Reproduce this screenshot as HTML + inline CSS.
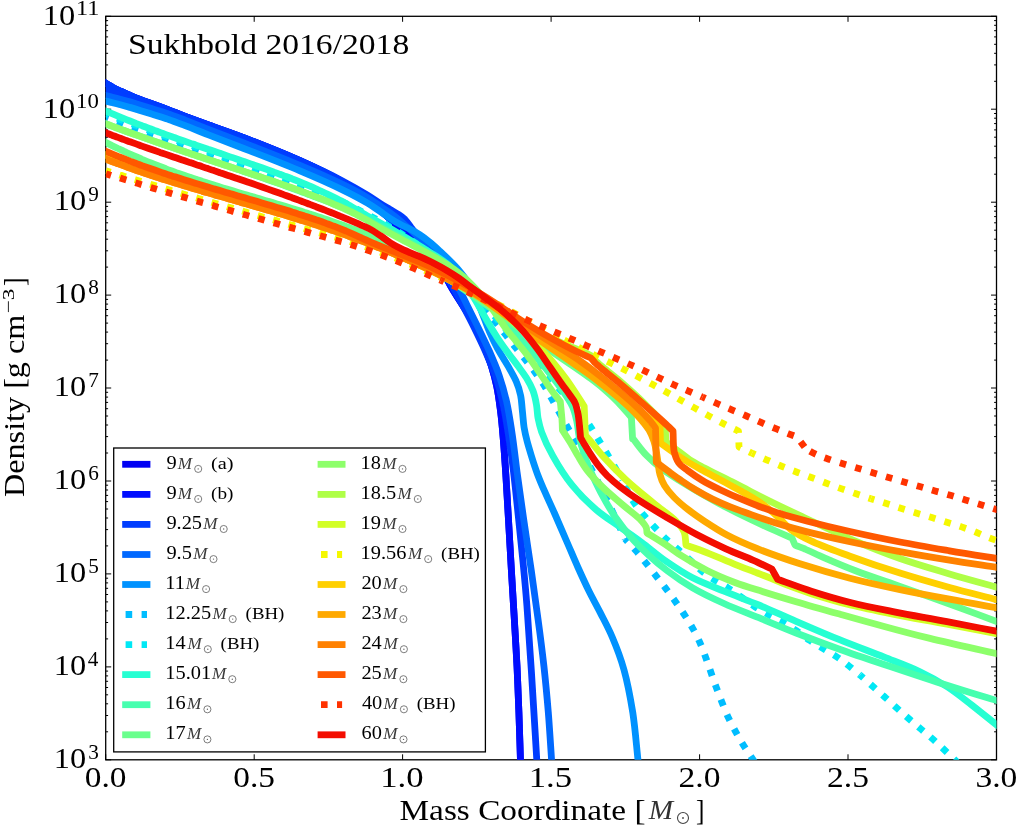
<!DOCTYPE html><html><head><meta charset="utf-8"><style>html,body{margin:0;padding:0;background:#fff;}svg{display:block;will-change:transform;}text{font-family:"Liberation Serif",serif;fill:#000;}</style></head><body>
<svg width="1016" height="826" viewBox="0 0 1016 826">
<rect width="1016" height="826" fill="#fff"/>
<defs><filter id="bl" x="0" y="0" width="1016" height="826" filterUnits="userSpaceOnUse"><feGaussianBlur stdDeviation="0.45"/></filter></defs>
<g filter="url(#bl)">
<rect width="1016" height="826" fill="#fff"/>
<defs><clipPath id="ax"><rect x="105.7" y="16.3" width="890.8" height="743.5"/></clipPath></defs>
<path d="M105.7,759.8 V754.3 M105.7,16.3 V21.8 M254.2,759.8 V754.3 M254.2,16.3 V21.8 M402.6,759.8 V754.3 M402.6,16.3 V21.8 M551.1,759.8 V754.3 M551.1,16.3 V21.8 M699.6,759.8 V754.3 M699.6,16.3 V21.8 M848.0,759.8 V754.3 M848.0,16.3 V21.8 M996.5,759.8 V754.3 M996.5,16.3 V21.8 M105.7,759.8 H111.2 M996.5,759.8 H991.0 M105.7,731.8 H108.1 M996.5,731.8 H994.1 M105.7,715.5 H108.1 M996.5,715.5 H994.1 M105.7,703.8 H108.1 M996.5,703.8 H994.1 M105.7,694.8 H108.1 M996.5,694.8 H994.1 M105.7,687.5 H108.1 M996.5,687.5 H994.1 M105.7,681.3 H108.1 M996.5,681.3 H994.1 M105.7,675.9 H108.1 M996.5,675.9 H994.1 M105.7,671.1 H108.1 M996.5,671.1 H994.1 M105.7,666.9 H111.2 M996.5,666.9 H991.0 M105.7,638.9 H108.1 M996.5,638.9 H994.1 M105.7,622.5 H108.1 M996.5,622.5 H994.1 M105.7,610.9 H108.1 M996.5,610.9 H994.1 M105.7,601.9 H108.1 M996.5,601.9 H994.1 M105.7,594.5 H108.1 M996.5,594.5 H994.1 M105.7,588.3 H108.1 M996.5,588.3 H994.1 M105.7,582.9 H108.1 M996.5,582.9 H994.1 M105.7,578.2 H108.1 M996.5,578.2 H994.1 M105.7,573.9 H111.2 M996.5,573.9 H991.0 M105.7,545.9 H108.1 M996.5,545.9 H994.1 M105.7,529.6 H108.1 M996.5,529.6 H994.1 M105.7,518.0 H108.1 M996.5,518.0 H994.1 M105.7,509.0 H108.1 M996.5,509.0 H994.1 M105.7,501.6 H108.1 M996.5,501.6 H994.1 M105.7,495.4 H108.1 M996.5,495.4 H994.1 M105.7,490.0 H108.1 M996.5,490.0 H994.1 M105.7,485.2 H108.1 M996.5,485.2 H994.1 M105.7,481.0 H111.2 M996.5,481.0 H991.0 M105.7,453.0 H108.1 M996.5,453.0 H994.1 M105.7,436.6 H108.1 M996.5,436.6 H994.1 M105.7,425.0 H108.1 M996.5,425.0 H994.1 M105.7,416.0 H108.1 M996.5,416.0 H994.1 M105.7,408.7 H108.1 M996.5,408.7 H994.1 M105.7,402.4 H108.1 M996.5,402.4 H994.1 M105.7,397.1 H108.1 M996.5,397.1 H994.1 M105.7,392.3 H108.1 M996.5,392.3 H994.1 M105.7,388.0 H111.2 M996.5,388.0 H991.0 M105.7,360.1 H108.1 M996.5,360.1 H994.1 M105.7,343.7 H108.1 M996.5,343.7 H994.1 M105.7,332.1 H108.1 M996.5,332.1 H994.1 M105.7,323.1 H108.1 M996.5,323.1 H994.1 M105.7,315.7 H108.1 M996.5,315.7 H994.1 M105.7,309.5 H108.1 M996.5,309.5 H994.1 M105.7,304.1 H108.1 M996.5,304.1 H994.1 M105.7,299.4 H108.1 M996.5,299.4 H994.1 M105.7,295.1 H111.2 M996.5,295.1 H991.0 M105.7,267.1 H108.1 M996.5,267.1 H994.1 M105.7,250.8 H108.1 M996.5,250.8 H994.1 M105.7,239.2 H108.1 M996.5,239.2 H994.1 M105.7,230.2 H108.1 M996.5,230.2 H994.1 M105.7,222.8 H108.1 M996.5,222.8 H994.1 M105.7,216.6 H108.1 M996.5,216.6 H994.1 M105.7,211.2 H108.1 M996.5,211.2 H994.1 M105.7,206.4 H108.1 M996.5,206.4 H994.1 M105.7,202.2 H111.2 M996.5,202.2 H991.0 M105.7,174.2 H108.1 M996.5,174.2 H994.1 M105.7,157.8 H108.1 M996.5,157.8 H994.1 M105.7,146.2 H108.1 M996.5,146.2 H994.1 M105.7,137.2 H108.1 M996.5,137.2 H994.1 M105.7,129.9 H108.1 M996.5,129.9 H994.1 M105.7,123.6 H108.1 M996.5,123.6 H994.1 M105.7,118.2 H108.1 M996.5,118.2 H994.1 M105.7,113.5 H108.1 M996.5,113.5 H994.1 M105.7,109.2 H111.2 M996.5,109.2 H991.0 M105.7,81.3 H108.1 M996.5,81.3 H994.1 M105.7,64.9 H108.1 M996.5,64.9 H994.1 M105.7,53.3 H108.1 M996.5,53.3 H994.1 M105.7,44.3 H108.1 M996.5,44.3 H994.1 M105.7,36.9 H108.1 M996.5,36.9 H994.1 M105.7,30.7 H108.1 M996.5,30.7 H994.1 M105.7,25.3 H108.1 M996.5,25.3 H994.1 M105.7,20.6 H108.1 M996.5,20.6 H994.1 M105.7,16.3 H111.2 M996.5,16.3 H991.0" stroke="#000" stroke-width="1" fill="none"/>
<rect x="105.7" y="16.3" width="890.8" height="743.5" fill="none" stroke="#000" stroke-width="1.3"/>
<g clip-path="url(#ax)" fill="none" stroke-width="6.8">
<path d="M106.0,83.4 C108.2,84.7 110.2,86.0 112.5,87.3 C115.0,88.6 117.7,89.8 120.5,91.2 C123.5,92.6 126.8,94.0 130.0,95.4 C133.3,96.8 136.5,98.2 140.0,99.5 C143.9,101.0 148.1,102.4 152.5,104.0 C157.5,105.8 163.2,107.9 168.5,109.9 C173.8,111.9 178.6,114.0 184.5,116.2 C191.7,118.9 199.4,121.6 208.5,125.0 C220.5,129.3 235.6,134.5 250.0,140.1 C265.9,146.3 284.1,153.4 300.0,160.7 C314.9,167.4 330.2,174.8 342.5,182.0 C352.5,188.0 361.4,194.4 368.8,200.2 C374.6,204.7 379.2,209.3 383.8,213.4 C387.5,216.8 390.9,219.8 394.1,222.9 C397.1,225.7 399.5,228.4 402.5,231.1 C405.7,234.1 409.1,236.9 412.6,239.9 C416.3,242.9 420.4,246.0 424.0,249.1 C427.4,252.1 430.8,254.9 433.8,258.4 C436.8,261.9 439.3,266.0 442.0,270.2 C444.9,275.0 447.5,280.6 450.5,285.8 C453.5,291.0 456.8,296.2 460.0,301.2 C463.1,306.2 466.5,311.0 469.5,316.0 C472.5,321.0 475.2,326.2 477.8,331.5 C480.4,336.9 482.7,342.5 485.0,348.2 C487.3,354.1 489.6,360.0 491.5,366.2 C493.5,372.8 495.3,379.4 496.8,386.5 C498.4,394.3 499.5,402.6 500.6,411.2 C501.8,420.6 502.6,430.3 503.4,440.4 C504.3,451.2 505.0,462.1 505.8,474.1 C506.7,487.7 507.6,502.7 508.4,518.0 C509.4,534.7 510.4,553.3 511.4,570.5 C512.4,587.4 513.4,604.1 514.4,620.4 C515.3,635.9 516.2,650.7 517.0,666.0 C517.7,681.4 518.3,696.6 518.9,712.2 C519.5,728.5 520.0,745.4 520.5,762.0" stroke="#0000f3" stroke-linecap="square" stroke-linejoin="round"/>
<path d="M106.0,83.4 C108.2,84.7 110.2,86.0 112.5,87.3 C115.0,88.6 117.7,89.8 120.5,91.2 C123.5,92.6 126.8,94.0 130.0,95.4 C133.3,96.8 136.5,98.2 140.0,99.5 C143.9,101.0 148.1,102.4 152.5,104.0 C157.5,105.8 163.2,107.9 168.5,109.9 C173.8,111.9 178.6,114.0 184.5,116.2 C191.7,118.9 199.4,121.6 208.5,125.0 C220.5,129.3 235.6,134.5 250.0,140.1 C265.9,146.3 284.1,153.4 300.0,160.7 C314.9,167.4 330.2,174.8 342.5,182.0 C352.5,188.0 361.4,194.4 368.8,200.2 C374.6,204.7 379.2,209.3 383.8,213.4 C387.5,216.8 390.9,219.8 394.1,222.9 C397.1,225.7 399.5,228.4 402.5,231.1 C405.7,234.1 409.1,236.9 412.6,239.9 C416.3,242.9 420.4,246.0 424.0,249.1 C427.4,252.1 430.8,254.9 433.8,258.4 C436.8,261.9 439.3,266.0 442.0,270.2 C444.9,275.0 447.5,280.6 450.5,285.8 C453.5,291.0 456.8,296.2 460.0,301.2 C463.1,306.2 466.5,311.0 469.5,316.0 C472.5,321.0 475.2,326.2 477.8,331.5 C480.4,336.9 482.7,342.5 485.0,348.2 C487.3,354.1 489.6,360.0 491.5,366.2 C493.5,372.8 495.3,379.4 496.8,386.5 C498.4,394.3 499.5,402.6 500.6,411.2 C501.8,420.6 502.6,430.3 503.4,440.4 C504.3,451.2 505.0,462.1 505.8,474.1 C506.7,487.7 507.6,502.7 508.4,518.0 C509.4,534.7 510.4,553.3 511.4,570.5 C512.4,587.4 513.4,604.1 514.4,620.4 C515.3,635.9 516.2,650.7 517.0,666.0 C517.7,681.4 518.3,696.6 518.9,712.2 C519.5,728.5 520.0,745.4 520.5,762.0" stroke="#0011ff" stroke-linecap="square" stroke-linejoin="round"/>
<path d="M106.0,83.4 C108.2,84.7 110.2,86.0 112.5,87.3 C115.0,88.6 117.7,89.8 120.5,91.2 C123.5,92.6 126.8,94.0 130.0,95.4 C133.3,96.8 136.5,98.2 140.0,99.5 C143.9,101.0 148.1,102.4 152.5,104.0 C157.5,105.8 163.2,107.9 168.5,109.9 C173.8,111.9 178.6,114.0 184.5,116.2 C191.7,118.9 199.4,121.6 208.5,125.0 C220.5,129.3 235.6,134.5 250.0,140.1 C265.9,146.3 284.1,153.6 300.0,160.7 C314.8,167.2 330.3,174.5 342.5,180.9 C352.0,185.9 360.7,191.0 367.5,195.2 C372.4,198.2 376.0,200.9 380.0,203.4 C383.5,205.6 386.8,207.5 390.0,209.4 C393.0,211.2 396.1,212.8 398.8,214.6 C401.1,216.1 403.0,217.5 405.0,219.5 C407.2,221.8 408.9,224.5 411.2,227.6 C414.5,231.8 418.5,236.9 422.5,242.2 C427.3,248.6 433.1,256.1 438.0,263.2 C442.8,270.3 447.3,277.8 451.5,285.0 C455.4,291.8 458.8,298.1 462.5,305.0 C466.3,312.2 470.2,319.6 474.0,327.2 C477.9,335.1 481.9,343.4 485.5,351.5 C489.0,359.5 492.4,367.3 495.2,375.5 C498.1,383.9 500.4,392.2 502.5,401.2 C504.8,411.2 506.5,421.8 508.2,432.9 C510.2,445.1 511.9,458.1 513.5,471.6 C515.3,486.3 516.9,502.7 518.5,518.0 C520.1,533.1 521.7,548.2 523.1,563.0 C524.5,577.4 525.7,589.7 526.9,605.4 C528.4,625.0 529.9,647.7 531.4,671.5 C533.2,699.3 535.1,731.8 536.9,762.0" stroke="#003cff" stroke-linecap="square" stroke-linejoin="round"/>
<path d="M106.0,89.5 C108.2,90.4 110.2,91.3 112.5,92.2 C115.0,93.2 117.7,94.2 120.5,95.2 C123.5,96.3 126.8,97.5 130.0,98.6 C133.3,99.8 136.5,101.0 140.0,102.2 C143.9,103.6 148.1,104.9 152.5,106.4 C157.5,108.1 163.2,110.0 168.5,111.9 C173.9,113.8 178.6,115.8 184.5,118.0 C191.7,120.8 199.4,123.7 208.5,127.2 C220.4,131.7 235.6,137.1 250.0,142.7 C265.9,149.0 284.1,156.1 300.0,163.0 C314.8,169.4 330.3,176.5 342.5,182.6 C352.0,187.5 360.7,192.3 367.5,196.4 C372.5,199.4 376.1,202.1 380.0,204.7 C383.5,207.0 386.7,209.0 390.0,211.1 C393.3,213.2 396.7,215.3 400.0,217.4" stroke="#003cff" stroke-linecap="square" stroke-linejoin="round"/>
<path d="M106.0,95.6 C108.2,96.1 110.2,96.7 112.5,97.2 C115.0,97.9 117.7,98.5 120.5,99.2 C123.5,100.0 126.8,100.9 130.0,101.8 C133.3,102.8 136.5,103.8 140.0,104.9 C143.9,106.1 148.1,107.4 152.5,108.8 C157.5,110.3 163.2,112.0 168.5,113.9 C173.9,115.7 178.6,117.6 184.5,119.8 C191.7,122.6 199.4,125.8 208.5,129.4 C220.4,134.0 235.5,139.7 250.0,145.4 C265.9,151.6 284.1,158.6 300.0,165.4 C314.8,171.6 330.3,178.4 342.5,184.4 C352.0,189.0 360.7,193.6 367.5,197.7 C372.5,200.6 376.1,203.3 380.0,205.9 C383.5,208.3 386.7,210.4 390.0,212.8 C393.4,215.3 396.5,217.6 400.0,220.5 C404.0,223.8 408.1,227.8 412.5,231.7 C417.3,236.0 422.8,240.7 427.5,245.2 C431.9,249.3 436.3,253.0 440.0,257.3 C443.6,261.5 446.6,266.0 449.5,270.8 C452.6,275.8 455.2,281.2 458.0,286.8 C461.0,292.6 463.8,298.6 467.0,305.0 C470.5,312.1 474.3,319.7 478.0,327.2 C481.8,335.1 485.9,343.4 489.5,351.5 C493.0,359.5 496.4,367.3 499.2,375.5 C502.1,383.9 504.4,392.2 506.5,401.2 C508.8,411.2 510.3,421.8 512.0,432.9 C513.9,445.1 515.2,458.1 517.0,471.6 C519.0,486.4 521.2,502.1 523.5,518.0 C525.9,535.0 528.8,553.2 531.3,570.5 C533.7,587.4 536.1,604.1 538.2,620.4 C540.3,635.9 542.2,650.7 543.9,666.0 C545.6,681.4 547.0,696.5 548.3,712.2 C549.6,728.5 550.6,745.4 551.7,762.0" stroke="#0067ff" stroke-linecap="square" stroke-linejoin="round"/>
<path d="M106.0,101.1 C108.2,101.6 110.2,102.2 112.5,102.7 C115.0,103.4 117.7,104.0 120.5,104.7 C123.5,105.5 126.8,106.4 130.0,107.4 C133.3,108.3 136.5,109.3 140.0,110.4 C143.9,111.6 148.1,112.9 152.5,114.3 C157.5,115.8 163.2,117.5 168.5,119.4 C173.9,121.2 178.6,123.1 184.5,125.4 C191.7,128.1 199.4,131.3 208.5,134.9 C220.4,139.5 235.5,145.2 250.0,150.9 C265.9,157.1 284.1,164.1 300.0,170.9 C314.8,177.1 330.3,183.9 342.5,189.9 C352.0,194.5 360.7,199.1 367.5,203.2 C372.5,206.1 376.1,208.8 380.0,211.4 C383.5,213.8 386.6,216.2 390.0,218.3 C393.3,220.4 396.6,222.4 400.0,224.2 C403.3,226.0 406.7,227.4 410.0,229.1 C413.4,230.9 416.7,232.7 420.0,234.9 C423.4,237.1 426.7,239.7 430.0,242.4 C433.4,245.1 436.7,248.2 440.0,251.2 C443.4,254.4 446.8,257.6 450.0,260.9 C453.2,264.1 456.4,267.3 459.2,270.6 C462.0,273.9 464.5,277.2 466.8,280.6 C469.0,284.0 470.9,287.5 472.8,291.1 C474.7,295.0 476.4,299.0 478.2,303.2 C480.2,307.8 482.1,312.9 484.0,317.8 C486.0,322.8 487.8,327.9 490.1,333.0 C492.4,338.2 494.8,343.4 497.6,348.6 C500.6,354.2 504.4,359.8 507.6,365.4 C510.6,370.8 514.0,376.1 516.2,381.4 C518.3,386.1 519.6,390.6 520.6,395.4 C521.7,400.5 521.8,405.8 522.4,411.1 C523.0,416.5 523.3,422.3 524.1,427.5 C524.9,432.3 525.9,436.6 527.1,441.2 C528.4,446.2 529.9,451.0 531.5,456.2 C533.3,462.0 535.3,468.3 537.5,474.2 C539.8,480.3 542.3,486.1 545.0,492.2 C547.9,498.9 551.1,505.6 554.4,513.0 C558.1,521.4 562.2,531.0 566.1,540.0 C570.1,549.1 574.1,558.8 578.0,567.5 C581.6,575.5 585.0,583.0 588.7,590.5 C592.3,597.9 596.2,604.6 600.0,612.1 C604.0,620.1 608.4,628.0 612.2,637.0 C616.5,647.1 620.7,658.0 624.0,669.8 C627.7,683.0 630.4,697.8 632.8,712.6 C635.2,728.5 636.4,745.5 638.2,762.0" stroke="#0092ff" stroke-linecap="square" stroke-linejoin="round"/>
<path id="d_12p25_0" d="M106.0,118.0 C108.0,118.8 110.0,119.5 112.0,120.3 C114.0,121.0 116.0,121.7 118.0,122.5 C120.0,123.2 122.0,123.9 124.0,124.7 C126.0,125.4 128.0,126.1 130.0,126.8 C132.0,127.6 134.0,128.3 136.0,129.0 C138.0,129.7 140.0,130.5 142.0,131.2 C144.0,131.9 146.0,132.6 148.0,133.3 C150.0,134.1 152.0,134.8 154.0,135.5 C156.0,136.2 158.0,136.9 160.0,137.6 C162.0,138.3 164.0,139.1 166.0,139.8 C168.0,140.5 170.0,141.2 172.0,141.9 C174.0,142.6 176.0,143.3 178.0,144.0 C180.0,144.7 182.0,145.5 184.0,146.2 C186.0,146.9 188.0,147.6 190.0,148.3 C192.0,149.0 194.0,149.7 196.0,150.4 C198.0,151.1 200.0,151.8 202.0,152.5 C204.0,153.2 206.0,154.0 208.0,154.7 C210.0,155.4 212.0,156.1 214.0,156.8 C216.0,157.5 218.0,158.2 220.0,158.9 C222.0,159.6 224.0,160.4 226.0,161.1 C228.0,161.8 230.0,162.5 232.0,163.2 C234.0,163.9 236.0,164.7 238.0,165.4 C240.0,166.1 242.0,166.8 244.0,167.5 C246.0,168.3 248.0,169.0 250.0,169.7 C252.0,170.4 254.0,171.2 256.0,171.9 C258.0,172.6 260.0,173.3 262.0,174.1 C264.0,174.8 266.0,175.5 268.0,176.3 C270.0,177.0 272.0,177.8 274.0,178.5 C276.0,179.2 278.0,180.0 280.0,180.7 C282.0,181.5 284.0,182.2 286.0,183.0 C288.0,183.7 290.0,184.5 292.0,185.2 C294.0,186.0 296.0,186.8 298.0,187.5 C300.0,188.3 302.0,189.1 304.0,189.8 C306.0,190.6 308.0,191.4 310.0,192.1 C312.0,192.9 314.0,193.7 316.0,194.5 C318.0,195.3 320.0,196.1 322.0,196.8 C324.0,197.6 326.0,198.4 328.0,199.2 C330.0,200.0 332.0,200.8 334.0,201.6 C336.0,202.5 338.0,203.3 340.0,204.1 C341.9,204.8 343.4,205.4 345.5,206.3 C348.6,207.7 352.3,209.6 356.5,211.7 C362.4,214.7 370.1,218.5 377.5,222.5 C386.1,227.2 395.6,232.0 405.0,238.0 C415.6,244.8 427.1,252.9 437.5,261.5 C448.0,270.2 458.6,280.5 467.5,289.8 C475.3,297.9 482.2,306.2 488.5,313.6 C493.8,319.9 498.4,325.7 502.8,331.2 C506.7,336.0 510.1,340.4 513.6,345.0 C517.1,349.3 520.5,353.6 524.0,357.9 C527.4,362.3 531.0,366.8 534.3,371.2 C537.5,375.6 540.5,379.9 543.3,384.2 C546.0,388.5 548.4,392.6 550.8,397.0 C553.3,401.3 555.6,405.9 558.1,410.4 C560.7,415.1 563.3,419.9 566.0,424.6 C568.6,429.3 571.5,434.0 574.2,438.6 C576.9,443.1 579.5,447.3 582.1,451.9 C584.8,456.7 587.2,461.4 590.0,466.6 C593.2,472.7 596.7,479.3 600.2,486.2 C604.1,493.9 608.2,502.4 612.2,510.9 C616.5,519.9 620.8,529.5 625.0,538.8" stroke="#00bdff" stroke-dasharray="6.6 9.4" stroke-dashoffset="4.30" stroke-linecap="butt" stroke-linejoin="round"/>
<path id="d_12p25_1" d="M625.0,538.8 C628.6,542.7 632.3,546.6 635.8,550.6 C639.3,554.6 642.6,558.9 646.0,563.1 C649.3,567.2 652.5,571.4 655.8,575.6 C659.0,579.8 662.3,583.9 665.5,588.1 C668.8,592.4 671.9,596.7 675.0,601.0 C678.0,605.3 681.0,609.6 683.9,614.0 C686.8,618.4 689.7,622.9 692.2,627.5 C694.9,632.1 697.2,636.5 699.5,641.7 C702.1,647.5 704.3,653.6 706.8,660.5 C709.9,668.9 713.0,678.9 716.6,688.2 C720.3,698.0 724.2,708.6 728.5,717.9 C732.6,726.5 737.0,734.4 741.6,742.2 C746.2,749.8 751.2,756.7 756.0,764.0" stroke="#00bdff" stroke-dasharray="6.6 9.4" stroke-dashoffset="2.80" stroke-linecap="butt" stroke-linejoin="round"/>
<path id="d_14_0" d="M106.0,113.9 C108.0,114.7 110.0,115.4 112.0,116.2 C114.0,117.0 116.0,117.8 118.0,118.5 C120.0,119.3 122.0,120.1 124.0,120.8 C126.0,121.6 128.0,122.4 130.0,123.1 C132.0,123.9 134.0,124.6 136.0,125.4 C138.0,126.1 140.0,126.9 142.0,127.6 C144.0,128.4 146.0,129.1 148.0,129.8 C150.0,130.6 152.0,131.3 154.0,132.1 C156.0,132.8 158.0,133.5 160.0,134.3 C162.0,135.0 164.0,135.7 166.0,136.4 C168.0,137.2 170.0,137.9 172.0,138.6 C174.0,139.3 176.0,140.1 178.0,140.8 C180.0,141.5 182.0,142.2 184.0,142.9 C186.0,143.6 188.0,144.4 190.0,145.1 C192.0,145.8 194.0,146.5 196.0,147.2 C198.0,147.9 200.0,148.7 202.0,149.4 C204.0,150.1 206.0,150.8 208.0,151.5 C210.0,152.2 212.0,152.9 214.0,153.6 C216.0,154.4 218.0,155.1 220.0,155.8 C222.0,156.5 224.0,157.2 226.0,157.9 C228.0,158.6 230.0,159.4 232.0,160.1 C234.0,160.8 236.0,161.5 238.0,162.2 C240.0,162.9 242.0,163.7 244.0,164.4 C246.0,165.1 248.0,165.8 250.0,166.6 C252.0,167.3 254.0,168.0 256.0,168.7 C258.0,169.5 260.0,170.2 262.0,170.9 C264.0,171.6 266.0,172.4 268.0,173.1 C270.0,173.9 272.0,174.6 274.0,175.3 C276.0,176.1 278.0,176.8 280.0,177.6 C282.0,178.3 284.0,179.1 286.0,179.8 C288.0,180.6 290.0,181.3 292.0,182.1 C294.0,182.8 296.0,183.6 298.0,184.4 C300.0,185.1 302.0,185.9 304.0,186.7 C306.0,187.4 308.0,188.2 310.0,189.0 C312.0,189.8 314.0,190.6 316.0,191.3 C318.0,192.1 320.0,192.9 322.0,193.7 C324.0,194.5 326.0,195.3 328.0,196.1 C330.0,196.9 332.0,197.7 334.0,198.6 C336.0,199.4 338.0,200.2 340.0,201.0 C341.9,201.8 343.2,202.3 345.5,203.3 C349.5,205.1 355.1,208.1 361.5,211.5 C371.1,216.6 385.2,223.7 397.5,231.3 C411.3,239.9 426.5,249.8 440.0,261.0 C454.0,272.7 467.1,286.7 480.0,300.2 C492.9,313.9 505.6,329.1 517.5,342.5 C528.4,354.7 539.1,366.7 548.8,377.5 C557.1,386.8 565.4,395.4 572.2,403.3 C577.8,409.8 582.8,415.7 586.9,421.3 C590.2,425.9 592.6,430.0 595.3,434.4 C598.0,438.7 600.4,442.7 603.0,447.1 C605.9,451.9 609.0,456.9 612.0,462.1 C615.3,467.8 618.7,474.0 622.0,480.0" stroke="#02e8f5" stroke-dasharray="6.6 9.4" stroke-dashoffset="4.05" stroke-linecap="butt" stroke-linejoin="round"/>
<path id="d_14_1" d="M622.0,480.0 C625.7,487.0 629.1,494.7 633.0,500.9 C636.5,506.3 640.2,511.0 644.0,515.5 C647.5,519.8 651.1,523.5 654.8,527.4 C658.5,531.3 662.2,535.2 666.0,538.9 C669.9,542.6 674.0,545.9 678.0,549.4 C682.0,552.9 686.1,556.4 690.0,560.0 C694.0,563.7 697.7,567.7 701.9,571.1 C705.9,574.4 710.1,577.2 714.4,580.0 C718.7,582.7 723.2,584.9 727.5,587.6 C731.9,590.4 736.2,593.5 740.5,596.5 C745.0,599.6 749.4,603.1 754.0,606.1 C758.6,609.1 763.4,611.9 768.2,614.6 C772.9,617.2 777.8,619.4 782.5,622.0 C787.2,624.7 791.8,627.5 796.3,630.6 C800.8,633.6 805.0,637.2 809.5,640.2 C813.9,643.2 818.3,645.5 822.9,648.4 C828.1,651.6 833.6,654.6 839.2,658.5 C845.8,663.2 853.1,669.5 860.0,675.0" stroke="#02e8f5" stroke-dasharray="6.6 9.4" stroke-dashoffset="9.30" stroke-linecap="butt" stroke-linejoin="round"/>
<path id="d_14_2" d="M860.0,675.0 C868.2,682.3 876.7,689.9 884.6,696.9 C892.0,703.5 899.3,710.3 905.8,716.0 C911.2,720.8 915.9,724.7 920.9,729.0 C925.9,733.3 930.5,737.0 935.9,741.9 C942.4,747.8 950.0,755.3 957.0,762.0" stroke="#02e8f5" stroke-dasharray="6.6 9.4" stroke-dashoffset="2.05" stroke-linecap="butt" stroke-linejoin="round"/>
<path d="M106.0,111.2 C108.0,112.0 110.0,112.9 112.0,113.7 C114.0,114.5 116.0,115.4 118.0,116.2 C120.0,117.0 122.0,117.8 124.0,118.6 C126.0,119.4 128.0,120.2 130.0,121.0 C132.0,121.8 134.0,122.6 136.0,123.4 C138.0,124.1 140.0,124.9 142.0,125.7 C144.0,126.4 146.0,127.2 148.0,127.9 C150.0,128.7 152.0,129.4 154.0,130.2 C156.0,130.9 158.0,131.7 160.0,132.4 C162.0,133.1 164.0,133.9 166.0,134.6 C168.0,135.3 170.0,136.0 172.0,136.7 C174.0,137.4 176.0,138.2 178.0,138.9 C180.0,139.6 182.0,140.3 184.0,141.0 C186.0,141.7 188.0,142.4 190.0,143.1 C192.0,143.8 194.0,144.4 196.0,145.1 C198.0,145.8 200.0,146.5 202.0,147.2 C204.0,147.9 206.0,148.6 208.0,149.3 C210.0,149.9 212.0,150.6 214.0,151.3 C216.0,152.0 218.0,152.7 220.0,153.3 C222.0,154.0 224.0,154.7 226.0,155.4 C228.0,156.1 230.0,156.8 232.0,157.4 C234.0,158.1 236.0,158.8 238.0,159.5 C240.0,160.2 242.0,160.9 244.0,161.5 C246.0,162.2 248.0,162.9 250.0,163.6 C252.0,164.3 254.0,165.0 256.0,165.7 C258.0,166.4 260.0,167.1 262.0,167.8 C264.0,168.5 266.0,169.2 268.0,169.9 C270.0,170.6 272.0,171.3 274.0,172.1 C276.0,172.8 278.0,173.5 280.0,174.3 C282.0,175.0 284.0,175.8 286.0,176.5 C288.0,177.3 290.0,178.1 292.0,178.8 C294.0,179.6 296.0,180.4 298.0,181.2 C300.0,182.0 302.0,182.9 304.0,183.7 C306.0,184.5 308.0,185.4 310.0,186.2 C312.0,187.1 314.0,188.0 316.0,188.8 C318.0,189.7 320.0,190.6 322.0,191.6 C324.0,192.5 326.0,193.4 328.0,194.4 C330.0,195.3 332.0,196.3 334.0,197.3 C336.0,198.3 338.0,199.3 340.0,200.4 C342.0,201.4 344.0,202.5 346.0,203.6 C348.0,204.6 350.0,205.8 352.0,206.9 C354.0,208.0 356.0,209.2 358.0,210.3 C360.0,211.5 361.9,212.7 364.0,213.9 C366.2,215.3 368.4,216.5 371.0,217.9 C374.4,219.8 378.2,221.7 382.5,224.2 C388.3,227.4 395.5,231.5 402.5,235.6 C410.4,240.3 419.7,245.8 427.5,250.8 C434.6,255.3 441.6,259.3 447.5,264.2 C452.8,268.7 457.2,273.3 461.5,278.8 C466.1,284.6 470.2,291.6 474.2,298.2 C478.3,304.9 481.9,311.9 485.8,318.5 C489.4,324.8 493.0,331.0 496.8,336.8 C500.3,342.3 504.1,347.5 507.8,352.5 C511.1,357.1 514.6,361.4 517.8,365.8 C520.8,369.9 523.9,373.8 526.5,378.0 C529.0,382.1 531.3,386.3 533.0,390.8 C534.7,395.3 535.7,400.3 536.5,405.0 C537.3,409.4 537.2,413.6 538.0,418.0 C538.9,422.6 539.8,426.8 541.6,432.0 C544.1,438.9 548.1,447.5 552.7,455.6 C558.0,465.1 564.8,476.2 572.1,485.2 C579.3,494.2 587.9,502.7 596.3,509.8 C603.9,516.4 612.2,521.4 619.9,526.9 C627.2,532.1 634.1,536.7 641.3,542.1 C649.1,547.8 656.6,554.6 665.0,560.5 C673.7,566.5 682.9,572.7 692.6,577.8 C702.6,582.9 713.2,586.8 724.0,591.2 C735.3,595.9 747.1,600.1 758.8,605.0 C771.1,610.1 783.2,615.8 796.1,621.3 C810.0,627.3 824.8,633.8 839.5,639.7 C854.2,645.7 870.2,651.6 884.3,657.2 C896.9,662.2 909.0,666.5 920.0,671.8 C929.9,676.5 938.8,681.4 947.5,687.0 C956.1,692.6 963.8,698.9 972.0,705.2 C980.6,711.9 989.3,719.1 998.0,726.0" stroke="#25ffd2" stroke-linecap="square" stroke-linejoin="round"/>
<path d="M106.0,123.9 C108.0,124.6 110.0,125.4 112.0,126.1 C114.0,126.9 116.0,127.6 118.0,128.3 C120.0,129.1 122.0,129.8 124.0,130.5 C126.0,131.3 128.0,132.0 130.0,132.7 C132.0,133.4 134.0,134.1 136.0,134.8 C138.0,135.5 140.0,136.2 142.0,136.9 C144.0,137.6 146.0,138.3 148.0,139.0 C150.0,139.7 152.0,140.4 154.0,141.1 C156.0,141.8 158.0,142.5 160.0,143.2 C162.0,143.9 164.0,144.6 166.0,145.3 C168.0,145.9 170.0,146.6 172.0,147.3 C174.0,148.0 176.0,148.6 178.0,149.3 C180.0,150.0 182.0,150.7 184.0,151.3 C186.0,152.0 188.0,152.7 190.0,153.4 C192.0,154.0 194.0,154.7 196.0,155.4 C198.0,156.0 200.0,156.7 202.0,157.4 C204.0,158.1 206.0,158.7 208.0,159.4 C210.0,160.1 212.0,160.7 214.0,161.4 C216.0,162.1 218.0,162.7 220.0,163.4 C222.0,164.1 224.0,164.7 226.0,165.4 C228.0,166.1 230.0,166.8 232.0,167.4 C234.0,168.1 236.0,168.8 238.0,169.4 C240.0,170.1 242.0,170.8 244.0,171.5 C246.0,172.2 248.0,172.8 250.0,173.5 C252.0,174.2 254.0,174.9 256.0,175.6 C258.0,176.3 260.0,176.9 262.0,177.6 C264.0,178.3 266.0,179.0 268.0,179.7 C270.0,180.4 272.0,181.1 274.0,181.8 C276.0,182.5 278.0,183.2 280.0,183.9 C282.0,184.6 284.0,185.3 286.0,186.1 C288.0,186.8 290.0,187.5 292.0,188.2 C294.0,188.9 296.0,189.7 298.0,190.4 C300.0,191.1 302.0,191.9 304.0,192.6 C306.0,193.3 308.0,194.1 310.0,194.8 C312.0,195.6 314.0,196.3 316.0,197.1 C318.0,197.8 320.0,198.6 322.0,199.4 C324.0,200.1 326.0,200.9 328.0,201.7 C330.0,202.5 332.0,203.3 334.0,204.1 C336.0,204.8 338.0,205.7 340.0,206.4 C341.9,207.2 343.2,207.6 345.5,208.7 C349.5,210.5 355.1,213.4 361.5,216.7 C371.1,221.7 385.2,228.8 397.5,235.6 C410.9,243.0 426.0,250.8 438.8,259.5 C450.9,267.8 462.1,276.9 472.5,286.5 C482.6,295.8 491.4,306.3 500.2,316.0 C508.6,325.1 516.6,334.2 524.2,343.0 C531.5,351.3 538.5,359.5 545.0,367.5 C551.0,375.0 557.0,382.7 561.9,389.7 C566.0,395.6 570.0,401.0 572.5,406.6 C574.7,411.5 575.6,416.2 576.8,421.2 C577.9,426.3 578.1,431.6 579.2,437.0 C580.5,442.8 582.3,448.7 584.4,454.8 C586.6,461.6 589.6,468.8 592.6,475.6 C595.8,482.6 599.1,489.6 602.9,496.4 C606.7,503.5 610.9,510.6 615.6,517.5 C620.5,524.5 626.0,531.7 631.6,538.1 C637.0,544.2 642.6,549.6 648.5,555.0 C654.5,560.6 660.5,565.7 667.4,570.9 C675.0,576.7 683.6,582.6 692.6,587.9 C702.3,593.6 713.2,598.7 724.0,603.5 C735.2,608.6 747.0,612.9 758.8,617.7 C771.0,622.7 783.1,627.9 796.1,633.0 C809.9,638.4 824.3,643.8 839.5,649.2 C856.0,655.2 874.1,661.1 891.8,667.0 C909.9,673.1 928.9,679.5 947.0,685.2 C964.3,690.8 981.0,695.8 998.0,701.0" stroke="#47ffaf" stroke-linecap="square" stroke-linejoin="round"/>
<path d="M106.0,142.6 C108.0,143.6 110.0,144.6 112.0,145.6 C114.0,146.5 116.0,147.5 118.0,148.5 C120.0,149.4 122.0,150.4 124.0,151.3 C126.0,152.2 128.0,153.2 130.0,154.1 C132.0,155.0 134.0,155.8 136.0,156.7 C138.0,157.6 140.0,158.4 142.0,159.3 C144.0,160.1 146.0,161.0 148.0,161.8 C150.0,162.6 152.0,163.4 154.0,164.2 C156.0,165.0 158.0,165.8 160.0,166.5 C162.0,167.3 164.0,168.1 166.0,168.8 C168.0,169.6 170.0,170.3 172.0,171.0 C174.0,171.7 176.0,172.5 178.0,173.2 C180.0,173.9 182.0,174.6 184.0,175.3 C186.0,176.0 188.0,176.7 190.0,177.3 C192.0,178.0 194.0,178.7 196.0,179.3 C198.0,180.0 200.0,180.6 202.0,181.3 C204.0,181.9 206.0,182.6 208.0,183.2 C210.0,183.9 212.0,184.5 214.0,185.1 C216.0,185.7 218.0,186.4 220.0,187.0 C222.0,187.6 224.0,188.2 226.0,188.8 C228.0,189.4 230.0,190.0 232.0,190.6 C234.0,191.2 236.0,191.8 238.0,192.4 C240.0,193.0 242.0,193.6 244.0,194.2 C246.0,194.8 248.0,195.4 250.0,196.0 C252.0,196.6 254.0,197.1 256.0,197.7 C258.0,198.3 260.0,198.9 262.0,199.5 C264.0,200.1 266.0,200.7 268.0,201.3 C270.0,201.9 272.0,202.4 274.0,203.0 C276.0,203.6 278.0,204.2 280.0,204.8 C282.0,205.4 284.0,206.0 286.0,206.6 C288.0,207.2 290.0,207.8 292.0,208.4 C294.0,209.1 296.0,209.7 298.0,210.3 C300.0,210.9 302.0,211.5 304.0,212.2 C306.0,212.8 308.0,213.4 310.0,214.1 C312.0,214.7 314.0,215.4 316.0,216.0 C318.0,216.7 320.0,217.3 322.0,218.0 C324.0,218.7 326.0,219.3 328.0,220.0 C330.0,220.7 332.0,221.4 334.0,222.1 C336.0,222.8 338.0,223.5 340.0,224.2 C342.0,224.9 344.0,225.7 346.0,226.4 C348.0,227.1 350.0,227.9 352.0,228.6 C354.0,229.4 356.0,230.2 358.0,230.9 C360.0,231.7 361.9,232.5 364.0,233.3 C366.2,234.3 368.4,235.2 371.0,236.3 C374.4,237.8 378.1,239.6 382.5,241.7 C388.3,244.4 395.2,247.5 402.5,251.4 C411.6,256.1 422.2,262.2 432.5,268.5 C443.8,275.5 456.3,284.1 467.5,291.8 C477.9,298.9 488.2,306.2 497.5,312.8 C505.6,318.5 512.7,323.7 520.0,329.0 C526.9,334.0 533.3,338.8 540.0,343.5 C546.6,348.2 553.5,352.8 560.0,357.2 C566.1,361.5 572.4,365.7 577.9,369.5 C582.5,372.7 586.6,375.5 590.8,378.6 C594.9,381.7 598.7,384.6 602.9,388.1 C607.7,392.2 613.1,397.1 617.9,402.0 C622.6,406.9 626.9,412.3 631.4,417.5 L632.6,438.7 L633.0,438.7 C637.6,444.4 641.8,450.6 646.8,455.7 C651.4,460.5 656.4,464.7 661.8,468.8 C667.4,473.0 673.6,476.8 680.0,480.8 C686.8,485.0 693.9,489.3 701.2,493.5 C709.0,497.9 717.0,502.4 725.2,506.8 C733.8,511.3 743.1,515.9 751.8,520.0 C759.9,523.9 768.5,527.8 775.8,531.0 C781.7,533.6 786.6,535.7 792.0,538.0 L795.0,545.0 C798.3,546.4 801.1,547.4 805.0,549.0 C810.5,551.4 817.6,554.9 825.0,558.1 C834.2,562.1 844.9,566.7 856.2,571.0 C869.6,576.1 885.0,581.2 900.0,586.5 C916.0,592.2 933.1,598.1 949.5,604.0 C965.8,609.9 981.8,616.0 998.0,622.0" stroke="#6aff8d" stroke-linecap="square" stroke-linejoin="round"/>
<path d="M106.0,123.8 C108.0,124.6 110.0,125.3 112.0,126.1 C114.0,126.8 116.0,127.6 118.0,128.3 C120.0,129.1 122.0,129.8 124.0,130.5 C126.0,131.3 128.0,132.0 130.0,132.7 C132.0,133.4 134.0,134.1 136.0,134.9 C138.0,135.6 140.0,136.3 142.0,137.0 C144.0,137.7 146.0,138.4 148.0,139.1 C150.0,139.8 152.0,140.5 154.0,141.2 C156.0,141.9 158.0,142.6 160.0,143.3 C162.0,144.0 164.0,144.7 166.0,145.4 C168.0,146.0 170.0,146.7 172.0,147.4 C174.0,148.1 176.0,148.8 178.0,149.5 C180.0,150.1 182.0,150.8 184.0,151.5 C186.0,152.2 188.0,152.8 190.0,153.5 C192.0,154.2 194.0,154.8 196.0,155.5 C198.0,156.2 200.0,156.8 202.0,157.5 C204.0,158.2 206.0,158.8 208.0,159.5 C210.0,160.2 212.0,160.8 214.0,161.5 C216.0,162.2 218.0,162.8 220.0,163.5 C222.0,164.1 224.0,164.8 226.0,165.5 C228.0,166.1 230.0,166.8 232.0,167.5 C234.0,168.1 236.0,168.8 238.0,169.4 C240.0,170.1 242.0,170.8 244.0,171.4 C246.0,172.1 248.0,172.8 250.0,173.4 C252.0,174.1 254.0,174.7 256.0,175.4 C258.0,176.1 260.0,176.8 262.0,177.4 C264.0,178.1 266.0,178.8 268.0,179.4 C270.0,180.1 272.0,180.8 274.0,181.5 C276.0,182.2 278.0,182.9 280.0,183.6 C282.0,184.3 284.0,185.0 286.0,185.7 C288.0,186.4 290.0,187.1 292.0,187.8 C294.0,188.5 296.0,189.3 298.0,190.0 C300.0,190.7 302.0,191.5 304.0,192.2 C306.0,193.0 308.0,193.7 310.0,194.5 C312.0,195.3 314.0,196.0 316.0,196.8 C318.0,197.6 320.0,198.4 322.0,199.2 C324.0,200.1 326.0,200.9 328.0,201.7 C330.0,202.5 332.0,203.4 334.0,204.3 C336.0,205.1 338.0,206.0 340.0,206.9 C342.0,207.8 344.0,208.7 346.0,209.6 C348.0,210.5 350.0,211.4 352.0,212.4 C354.0,213.4 356.0,214.3 358.0,215.4 C360.0,216.4 361.9,217.4 364.0,218.6 C366.3,219.8 368.4,221.1 371.0,222.6 C374.4,224.6 378.1,226.8 382.5,229.3 C388.2,232.4 395.5,236.2 402.5,240.0 C410.4,244.2 419.7,248.9 427.5,253.2 C434.6,257.2 441.5,260.9 447.5,264.8 C452.6,268.1 456.8,271.0 461.2,274.8 C466.0,278.7 470.5,283.2 475.0,288.0 C479.7,293.0 484.6,298.9 488.8,304.2 C492.6,309.2 496.0,314.4 499.2,319.0 C502.2,323.1 504.7,327.0 507.5,330.8 C510.2,334.3 512.9,337.2 515.8,340.8 C519.0,344.7 522.4,348.7 526.0,353.4 C530.2,359.0 535.0,366.0 539.3,372.3 C543.6,378.4 547.9,385.2 551.7,390.5 C554.8,394.8 557.4,398.0 560.3,401.7 C560.9,407.8 561.7,414.8 562.0,420.0 C562.3,423.9 562.3,426.8 562.4,430.2 C565.4,434.9 568.7,439.8 571.4,444.4 C574.0,448.6 575.9,452.5 578.4,456.6 C581.0,461.0 583.3,465.3 586.8,469.8 C591.2,475.5 597.1,481.7 603.0,487.5 C609.4,493.7 617.5,500.2 624.0,505.9 C629.7,510.7 636.0,515.2 640.0,519.2 C642.7,522.1 645.0,524.6 646.1,527.2 C647.0,529.2 646.7,531.1 647.0,533.0 C653.0,536.7 659.0,540.3 664.9,544.2 C670.8,548.1 676.1,552.3 682.6,556.4 C690.0,561.1 698.6,566.2 707.1,570.5 C716.0,575.0 725.6,579.0 734.9,582.5 C744.0,586.0 752.8,588.5 762.4,591.5 C773.1,594.9 784.1,598.2 796.1,601.7 C809.6,605.7 824.9,610.0 839.5,614.1 C854.0,618.2 868.4,622.3 883.3,626.2 C898.6,630.4 912.9,634.2 930.0,638.4 C950.5,643.4 975.3,648.8 998.0,654.0" stroke="#8dff6a" stroke-linecap="square" stroke-linejoin="round"/>
<path d="M106.0,155.2 C108.0,156.1 110.0,156.9 112.0,157.7 C114.0,158.5 116.0,159.3 118.0,160.1 C120.0,160.8 122.0,161.6 124.0,162.4 C126.0,163.1 128.0,163.9 130.0,164.6 C132.0,165.4 134.0,166.1 136.0,166.8 C138.0,167.6 140.0,168.3 142.0,169.0 C144.0,169.7 146.0,170.4 148.0,171.1 C150.0,171.8 152.0,172.5 154.0,173.1 C156.0,173.8 158.0,174.5 160.0,175.1 C162.0,175.8 164.0,176.4 166.0,177.1 C168.0,177.7 170.0,178.4 172.0,179.0 C174.0,179.7 176.0,180.3 178.0,180.9 C180.0,181.5 182.0,182.1 184.0,182.8 C186.0,183.4 188.0,184.0 190.0,184.6 C192.0,185.2 194.0,185.8 196.0,186.4 C198.0,187.0 200.0,187.6 202.0,188.2 C204.0,188.8 206.0,189.3 208.0,189.9 C210.0,190.5 212.0,191.1 214.0,191.7 C216.0,192.3 218.0,192.8 220.0,193.4 C222.0,194.0 224.0,194.6 226.0,195.1 C228.0,195.7 230.0,196.3 232.0,196.9 C234.0,197.4 236.0,198.0 238.0,198.6 C240.0,199.2 242.0,199.7 244.0,200.3 C246.0,200.9 248.0,201.5 250.0,202.0 C252.0,202.6 254.0,203.2 256.0,203.8 C258.0,204.4 260.0,204.9 262.0,205.5 C264.0,206.1 266.0,206.7 268.0,207.3 C270.0,207.9 272.0,208.5 274.0,209.1 C276.0,209.7 278.0,210.3 280.0,210.9 C282.0,211.5 284.0,212.1 286.0,212.7 C288.0,213.3 290.0,214.0 292.0,214.6 C294.0,215.2 296.0,215.8 298.0,216.5 C300.0,217.1 302.0,217.8 304.0,218.4 C306.0,219.1 308.0,219.7 310.0,220.4 C312.0,221.0 314.0,221.7 316.0,222.4 C318.0,223.1 320.0,223.8 322.0,224.4 C324.0,225.1 326.0,225.8 328.0,226.6 C330.0,227.3 332.0,228.0 334.0,228.7 C336.0,229.4 338.0,230.2 340.0,230.9 C342.0,231.7 344.0,232.4 346.0,233.2 C348.0,234.0 350.0,234.8 352.0,235.5 C354.0,236.3 356.0,237.1 358.0,238.0 C360.0,238.8 361.7,239.4 364.0,240.4 C367.3,241.8 371.3,243.5 376.0,245.6 C382.6,248.5 391.4,252.3 400.0,256.2 C410.0,260.7 421.5,265.7 432.5,271.1 C444.0,276.7 456.4,283.0 467.5,289.2 C478.0,295.0 488.3,301.4 497.5,307.2 C505.6,312.4 512.6,317.7 520.0,322.2 C526.8,326.5 533.2,330.4 540.0,333.8 C546.6,337.0 553.5,339.5 560.0,342.2 C566.1,344.8 572.3,347.3 577.8,349.6 C582.5,351.7 586.6,353.5 591.0,355.5 C592.2,357.0 593.2,358.4 594.8,360.0 C597.0,362.3 600.1,364.8 603.5,367.6 C608.1,371.5 614.4,376.3 620.0,381.1 C626.1,386.4 632.9,392.5 638.8,398.0 C644.1,403.1 649.1,408.2 653.8,413.0 C657.8,417.2 661.2,421.0 665.0,425.0 L666.0,442.0 C670.2,445.2 674.7,448.5 678.8,451.5 C682.5,454.3 685.5,456.9 689.5,459.5 C694.0,462.4 699.0,465.0 704.5,468.0 C711.2,471.6 719.6,475.5 727.0,479.2 C734.3,483.0 741.5,486.8 748.8,490.5 C756.0,494.2 762.4,497.5 770.5,501.5 C780.4,506.4 791.9,511.8 804.0,517.5 C818.1,524.1 834.2,532.0 850.0,538.8 C866.2,545.7 883.3,552.6 900.0,558.5 C916.4,564.3 933.1,569.0 949.5,573.9 C965.7,578.7 981.8,583.0 998.0,587.5" stroke="#afff47" stroke-linecap="square" stroke-linejoin="round"/>
<path d="M106.0,155.2 C108.0,156.1 110.0,156.9 112.0,157.7 C114.0,158.5 116.0,159.3 118.0,160.1 C120.0,160.8 122.0,161.6 124.0,162.4 C126.0,163.1 128.0,163.9 130.0,164.6 C132.0,165.4 134.0,166.1 136.0,166.8 C138.0,167.6 140.0,168.3 142.0,169.0 C144.0,169.7 146.0,170.4 148.0,171.1 C150.0,171.8 152.0,172.5 154.0,173.1 C156.0,173.8 158.0,174.5 160.0,175.1 C162.0,175.8 164.0,176.4 166.0,177.1 C168.0,177.7 170.0,178.4 172.0,179.0 C174.0,179.7 176.0,180.3 178.0,180.9 C180.0,181.5 182.0,182.1 184.0,182.8 C186.0,183.4 188.0,184.0 190.0,184.6 C192.0,185.2 194.0,185.8 196.0,186.4 C198.0,187.0 200.0,187.6 202.0,188.2 C204.0,188.8 206.0,189.3 208.0,189.9 C210.0,190.5 212.0,191.1 214.0,191.7 C216.0,192.3 218.0,192.8 220.0,193.4 C222.0,194.0 224.0,194.6 226.0,195.1 C228.0,195.7 230.0,196.3 232.0,196.9 C234.0,197.4 236.0,198.0 238.0,198.6 C240.0,199.2 242.0,199.7 244.0,200.3 C246.0,200.9 248.0,201.5 250.0,202.0 C252.0,202.6 254.0,203.2 256.0,203.8 C258.0,204.4 260.0,204.9 262.0,205.5 C264.0,206.1 266.0,206.7 268.0,207.3 C270.0,207.9 272.0,208.5 274.0,209.1 C276.0,209.7 278.0,210.3 280.0,210.9 C282.0,211.5 284.0,212.1 286.0,212.7 C288.0,213.3 290.0,214.0 292.0,214.6 C294.0,215.2 296.0,215.8 298.0,216.5 C300.0,217.1 302.0,217.8 304.0,218.4 C306.0,219.1 308.0,219.7 310.0,220.4 C312.0,221.0 314.0,221.7 316.0,222.4 C318.0,223.1 320.0,223.8 322.0,224.4 C324.0,225.1 326.0,225.8 328.0,226.6 C330.0,227.3 332.0,228.0 334.0,228.7 C336.0,229.4 338.0,230.2 340.0,230.9 C342.0,231.7 344.0,232.4 346.0,233.2 C348.0,234.0 350.0,234.8 352.0,235.5 C354.0,236.3 356.0,237.1 358.0,238.0 C360.0,238.8 361.7,239.4 364.0,240.4 C367.3,241.8 371.3,243.5 376.0,245.6 C382.6,248.5 391.4,252.3 400.0,256.2 C410.0,260.7 421.5,265.9 432.5,271.4 C444.0,277.1 456.4,283.3 467.5,289.7 C478.0,295.8 488.4,302.1 497.5,308.8 C505.8,314.8 513.0,321.1 520.0,327.5 C526.6,333.5 532.6,340.0 538.2,346.0 C543.4,351.5 548.0,356.4 552.7,361.9 C557.5,367.6 561.9,373.1 566.7,379.7 C572.4,387.6 578.4,397.4 584.2,406.3 L585.4,435.4 C587.0,437.2 588.2,438.5 590.2,440.8 C593.4,444.6 597.8,450.5 602.7,456.0 C609.1,463.1 617.4,471.7 625.6,479.4 C634.4,487.6 645.2,496.2 654.1,503.6 C661.8,509.9 670.6,515.5 675.9,521.0 C679.6,524.9 682.5,528.2 684.2,532.3 C685.8,536.2 685.4,540.8 686.0,545.0 C693.7,547.9 701.2,550.5 709.1,553.6 C717.5,556.9 726.6,561.0 734.9,564.3 C742.6,567.4 750.7,570.4 757.3,573.0 C762.6,575.1 766.9,576.7 771.6,578.6 C776.2,580.5 780.0,582.3 785.3,584.4 C792.7,587.3 802.2,590.7 812.0,593.9 C823.6,597.6 837.0,601.6 850.4,605.0 C864.7,608.5 879.9,611.5 895.4,614.6 C912.0,617.9 929.9,620.9 947.0,624.2 C964.1,627.4 981.0,630.7 998.0,634.0" stroke="#d2ff25" stroke-linecap="square" stroke-linejoin="round"/>
<path id="d_19p56_0" d="M106.0,170.7 C108.0,171.3 110.0,172.0 112.0,172.6 C114.0,173.2 116.0,173.8 118.0,174.4 C120.0,175.0 122.0,175.7 124.0,176.3 C126.0,176.9 128.0,177.5 130.0,178.1 C132.0,178.7 134.0,179.3 136.0,179.9 C138.0,180.5 140.0,181.1 142.0,181.7 C144.0,182.3 146.0,182.9 148.0,183.5 C150.0,184.1 152.0,184.7 154.0,185.3 C156.0,185.9 158.0,186.5 160.0,187.1 C162.0,187.7 164.0,188.3 166.0,188.9 C168.0,189.5 170.0,190.1 172.0,190.7 C174.0,191.3 176.0,191.9 178.0,192.5 C180.0,193.0 182.0,193.6 184.0,194.2 C186.0,194.8 188.0,195.4 190.0,196.0 C192.0,196.6 194.0,197.1 196.0,197.7 C198.0,198.3 200.0,198.9 202.0,199.5 C204.0,200.1 206.0,200.6 208.0,201.2 C210.0,201.8 212.0,202.4 214.0,203.0 C216.0,203.5 218.0,204.1 220.0,204.7 C222.0,205.3 224.0,205.8 226.0,206.4 C228.0,207.0 230.0,207.6 232.0,208.1 C234.0,208.7 236.0,209.3 238.0,209.8 C240.0,210.4 242.0,211.0 244.0,211.6 C246.0,212.1 248.0,212.7 250.0,213.3 C252.0,213.8 254.0,214.4 256.0,215.0 C258.0,215.5 260.0,216.1 262.0,216.7 C264.0,217.2 266.0,217.8 268.0,218.4 C270.0,218.9 272.0,219.5 274.0,220.1 C276.0,220.6 278.0,221.2 280.0,221.7 C282.0,222.3 284.0,222.9 286.0,223.4 C288.0,224.0 290.0,224.6 292.0,225.1 C294.0,225.7 296.0,226.2 298.0,226.8 C300.0,227.4 302.0,227.9 304.0,228.5 C306.0,229.0 308.0,229.6 310.0,230.2 C312.0,230.7 314.0,231.3 316.0,231.8 C318.0,232.4 320.0,232.9 322.0,233.5 C324.0,234.1 326.0,234.6 328.0,235.2 C330.0,235.7 332.0,236.3 334.0,236.8 C336.0,237.4 338.0,238.0 340.0,238.5 C341.9,239.0 343.3,239.4 345.5,240.0 C348.7,241.0 352.6,242.2 357.2,243.8 C364.0,246.1 373.4,249.4 382.0,252.7 C391.6,256.4 402.1,260.7 412.0,264.8 C421.8,268.9 431.3,273.2 441.0,277.5 C450.7,281.8 460.5,286.0 470.2,290.6 C480.2,295.4 490.1,300.4 500.0,305.5 C510.0,310.7 520.0,316.3 530.0,321.8 C540.0,327.2 550.0,332.6 560.0,338.0" stroke="#f5f802" stroke-dasharray="6.6 9.4" stroke-dashoffset="1.80" stroke-linecap="butt" stroke-linejoin="round"/>
<path id="d_19p56_1" d="M560.0,338.0 C566.5,341.3 573.3,344.8 579.5,347.9 C585.2,350.7 590.4,353.2 595.7,355.8 C600.6,358.2 605.4,360.5 610.2,362.8 C615.0,365.2 619.7,367.3 624.5,369.7 C629.2,372.1 633.8,374.5 638.5,377.0 C643.2,379.5 648.0,382.1 652.7,384.6 C657.3,387.1 661.8,389.5 666.3,392.0 C670.9,394.5 675.3,397.0 679.8,399.6 C684.5,402.2 689.4,405.0 694.1,407.6 C698.9,410.3 703.6,413.0 708.3,415.6 C712.9,418.1 717.7,420.7 722.1,423.0 C726.0,425.0 730.2,427.1 733.2,428.6 C735.3,429.6 736.7,430.2 738.5,431.0 L739.0,447.0 L752.0,453.2" stroke="#f5f802" stroke-dasharray="6.6 9.4" stroke-dashoffset="11.30" stroke-linecap="butt" stroke-linejoin="round"/>
<path id="d_19p56_2" d="M752.0,453.2 C756.9,455.4 761.7,457.7 766.5,459.8 C771.4,461.9 776.2,464.0 781.0,466.0 C785.9,468.0 790.8,469.9 795.8,471.7 C800.7,473.6 805.7,475.3 810.7,477.2 C815.7,479.1 820.8,481.0 825.8,483.0 C830.9,484.9 836.0,486.8 841.1,488.6 C846.1,490.4 851.1,492.1 856.1,493.8 C861.0,495.5 866.0,497.1 870.9,498.7" stroke="#f5f802" stroke-dasharray="6.6 9.4" stroke-dashoffset="3.05" stroke-linecap="butt" stroke-linejoin="round"/>
<path id="d_19p56_3" d="M870.9,498.7 C876.1,500.3 881.2,502.0 886.4,503.6 C891.5,505.2 896.5,506.9 901.6,508.5 C906.7,510.1 911.8,511.7 916.9,513.2 C921.9,514.7 926.9,516.1 931.9,517.6 C936.9,519.2 941.9,520.7 946.9,522.3 C951.9,523.8 956.9,525.3 961.6,526.9 C966.0,528.4 970.2,529.9 974.4,531.5 C978.3,533.1 981.9,534.9 985.8,536.5 C989.7,538.1 993.9,539.5 998.0,541.0" stroke="#f5f802" stroke-dasharray="6.6 9.4" stroke-dashoffset="3.05" stroke-linecap="butt" stroke-linejoin="round"/>
<path d="M106.0,155.2 C108.0,156.1 110.0,156.9 112.0,157.7 C114.0,158.5 116.0,159.3 118.0,160.1 C120.0,160.8 122.0,161.6 124.0,162.4 C126.0,163.1 128.0,163.9 130.0,164.6 C132.0,165.4 134.0,166.1 136.0,166.8 C138.0,167.6 140.0,168.3 142.0,169.0 C144.0,169.7 146.0,170.4 148.0,171.1 C150.0,171.8 152.0,172.5 154.0,173.1 C156.0,173.8 158.0,174.5 160.0,175.1 C162.0,175.8 164.0,176.4 166.0,177.1 C168.0,177.7 170.0,178.4 172.0,179.0 C174.0,179.7 176.0,180.3 178.0,180.9 C180.0,181.5 182.0,182.1 184.0,182.8 C186.0,183.4 188.0,184.0 190.0,184.6 C192.0,185.2 194.0,185.8 196.0,186.4 C198.0,187.0 200.0,187.6 202.0,188.2 C204.0,188.8 206.0,189.3 208.0,189.9 C210.0,190.5 212.0,191.1 214.0,191.7 C216.0,192.3 218.0,192.8 220.0,193.4 C222.0,194.0 224.0,194.6 226.0,195.1 C228.0,195.7 230.0,196.3 232.0,196.9 C234.0,197.4 236.0,198.0 238.0,198.6 C240.0,199.2 242.0,199.7 244.0,200.3 C246.0,200.9 248.0,201.5 250.0,202.0 C252.0,202.6 254.0,203.2 256.0,203.8 C258.0,204.4 260.0,204.9 262.0,205.5 C264.0,206.1 266.0,206.7 268.0,207.3 C270.0,207.9 272.0,208.5 274.0,209.1 C276.0,209.7 278.0,210.3 280.0,210.9 C282.0,211.5 284.0,212.1 286.0,212.7 C288.0,213.3 290.0,214.0 292.0,214.6 C294.0,215.2 296.0,215.8 298.0,216.5 C300.0,217.1 302.0,217.8 304.0,218.4 C306.0,219.1 308.0,219.7 310.0,220.4 C312.0,221.0 314.0,221.7 316.0,222.4 C318.0,223.1 320.0,223.8 322.0,224.4 C324.0,225.1 326.0,225.8 328.0,226.6 C330.0,227.3 332.0,228.0 334.0,228.7 C336.0,229.4 338.0,230.2 340.0,230.9 C342.0,231.7 344.0,232.4 346.0,233.2 C348.0,234.0 350.0,234.8 352.0,235.5 C354.0,236.3 356.0,237.1 358.0,238.0 C360.0,238.8 361.7,239.4 364.0,240.4 C367.3,241.8 371.3,243.5 376.0,245.6 C382.6,248.5 391.4,252.3 400.0,256.2 C410.0,260.7 421.5,265.7 432.5,271.1 C444.0,276.7 456.4,283.0 467.5,289.2 C478.0,295.0 488.3,301.4 497.5,307.2 C505.6,312.4 512.7,317.4 520.0,322.2 C526.9,326.8 533.3,331.2 540.0,335.5 C546.6,339.8 553.4,343.7 560.0,348.0 C566.7,352.4 573.4,356.8 580.0,361.8 C586.8,366.9 593.3,372.9 600.0,378.4 C606.7,384.0 613.5,389.8 620.0,395.1 C626.1,400.0 632.5,404.8 638.0,409.2 C642.7,412.9 647.0,416.5 651.0,419.5 C654.2,422.0 657.0,423.8 660.0,426.0 L660.5,443.0 C665.2,446.4 670.1,450.1 674.6,453.2 C678.7,456.1 682.1,458.4 686.2,461.0 C690.8,463.8 695.6,466.5 701.0,469.5 C707.5,473.1 715.2,477.1 722.5,481.1 C730.2,485.3 738.9,489.7 746.2,494.0 C752.9,497.9 759.3,501.7 765.0,505.9 C770.2,509.7 774.7,514.0 779.1,518.0 C783.3,521.8 786.1,525.9 790.8,529.4 C796.2,533.5 802.5,536.9 810.4,540.6 C821.1,545.8 836.0,551.0 850.0,556.2 C865.6,561.9 883.3,567.9 900.0,573.1 C916.5,578.3 933.1,583.0 949.5,587.5 C965.7,591.9 981.8,595.8 998.0,600.0" stroke="#ffd000" stroke-linecap="square" stroke-linejoin="round"/>
<path d="M106.0,159.2 C108.0,160.0 110.0,160.7 112.0,161.5 C114.0,162.2 116.0,163.0 118.0,163.7 C120.0,164.5 122.0,165.2 124.0,165.9 C126.0,166.6 128.0,167.4 130.0,168.1 C132.0,168.8 134.0,169.5 136.0,170.2 C138.0,170.9 140.0,171.5 142.0,172.2 C144.0,172.9 146.0,173.6 148.0,174.2 C150.0,174.9 152.0,175.6 154.0,176.2 C156.0,176.9 158.0,177.5 160.0,178.2 C162.0,178.8 164.0,179.5 166.0,180.1 C168.0,180.7 170.0,181.4 172.0,182.0 C174.0,182.6 176.0,183.2 178.0,183.8 C180.0,184.5 182.0,185.1 184.0,185.7 C186.0,186.3 188.0,186.9 190.0,187.5 C192.0,188.1 194.0,188.7 196.0,189.3 C198.0,189.9 200.0,190.5 202.0,191.1 C204.0,191.6 206.0,192.2 208.0,192.8 C210.0,193.4 212.0,194.0 214.0,194.6 C216.0,195.1 218.0,195.7 220.0,196.3 C222.0,196.9 224.0,197.5 226.0,198.0 C228.0,198.6 230.0,199.2 232.0,199.8 C234.0,200.3 236.0,200.9 238.0,201.5 C240.0,202.1 242.0,202.6 244.0,203.2 C246.0,203.8 248.0,204.4 250.0,205.0 C252.0,205.5 254.0,206.1 256.0,206.7 C258.0,207.3 260.0,207.9 262.0,208.4 C264.0,209.0 266.0,209.6 268.0,210.2 C270.0,210.8 272.0,211.4 274.0,212.0 C276.0,212.6 278.0,213.1 280.0,213.7 C282.0,214.3 284.0,214.9 286.0,215.5 C288.0,216.2 290.0,216.8 292.0,217.4 C294.0,218.0 296.0,218.6 298.0,219.2 C300.0,219.8 302.0,220.5 304.0,221.1 C306.0,221.7 308.0,222.4 310.0,223.0 C312.0,223.6 314.0,224.3 316.0,224.9 C318.0,225.6 320.0,226.2 322.0,226.9 C324.0,227.5 326.0,228.2 328.0,228.9 C330.0,229.6 332.0,230.2 334.0,230.9 C336.0,231.6 338.0,232.3 340.0,233.0 C342.0,233.7 344.0,234.4 346.0,235.1 C348.0,235.8 350.0,236.6 352.0,237.3 C354.0,238.0 356.0,238.8 358.0,239.5 C360.0,240.3 361.7,240.9 364.0,241.8 C367.3,243.1 371.3,244.6 376.0,246.5 C382.6,249.2 391.4,252.7 400.0,256.5 C410.0,260.8 421.6,265.7 432.5,271.1 C444.0,276.8 456.4,283.3 467.5,289.9 C478.0,296.2 488.3,303.3 497.5,309.8 C505.6,315.4 512.7,321.0 520.0,326.2 C526.8,331.2 533.3,335.8 540.0,340.5 C546.6,345.2 553.3,349.7 560.0,354.2 C566.7,358.8 573.4,363.3 580.0,368.1 C586.7,372.8 593.4,377.6 600.0,382.7 C606.7,387.9 613.6,393.3 620.0,398.9 C626.2,404.4 632.7,410.3 637.8,415.9 C642.1,420.7 646.2,425.5 649.0,430.1 C651.3,433.9 652.6,437.5 653.9,441.1 C655.1,444.7 655.7,448.1 656.4,451.8 C657.1,455.4 657.5,459.3 658.1,463.1 C658.7,466.8 658.8,470.7 659.9,474.4 C660.9,478.2 662.3,481.9 664.5,485.5 C667.0,489.6 670.5,493.7 674.2,497.5 C678.3,501.7 683.0,505.6 688.0,509.5 C693.4,513.7 699.2,517.7 705.4,521.8 C712.1,526.2 719.1,530.8 727.0,535.0 C736.0,539.8 745.9,544.1 756.9,548.5 C769.8,553.7 785.0,558.9 800.0,563.8 C816.0,568.9 833.3,573.9 850.0,578.2 C866.6,582.5 883.3,586.1 900.0,589.6 C916.5,593.1 933.1,596.2 949.5,599.2 C965.7,602.3 981.8,605.1 998.0,608.0" stroke="#ffa900" stroke-linecap="square" stroke-linejoin="round"/>
<path d="M106.0,159.2 C108.0,160.0 110.0,160.7 112.0,161.5 C114.0,162.2 116.0,163.0 118.0,163.7 C120.0,164.5 122.0,165.2 124.0,165.9 C126.0,166.6 128.0,167.4 130.0,168.1 C132.0,168.8 134.0,169.5 136.0,170.2 C138.0,170.9 140.0,171.5 142.0,172.2 C144.0,172.9 146.0,173.6 148.0,174.2 C150.0,174.9 152.0,175.6 154.0,176.2 C156.0,176.9 158.0,177.5 160.0,178.2 C162.0,178.8 164.0,179.5 166.0,180.1 C168.0,180.7 170.0,181.4 172.0,182.0 C174.0,182.6 176.0,183.2 178.0,183.8 C180.0,184.5 182.0,185.1 184.0,185.7 C186.0,186.3 188.0,186.9 190.0,187.5 C192.0,188.1 194.0,188.7 196.0,189.3 C198.0,189.9 200.0,190.5 202.0,191.1 C204.0,191.6 206.0,192.2 208.0,192.8 C210.0,193.4 212.0,194.0 214.0,194.6 C216.0,195.1 218.0,195.7 220.0,196.3 C222.0,196.9 224.0,197.5 226.0,198.0 C228.0,198.6 230.0,199.2 232.0,199.8 C234.0,200.3 236.0,200.9 238.0,201.5 C240.0,202.1 242.0,202.6 244.0,203.2 C246.0,203.8 248.0,204.4 250.0,205.0 C252.0,205.5 254.0,206.1 256.0,206.7 C258.0,207.3 260.0,207.9 262.0,208.4 C264.0,209.0 266.0,209.6 268.0,210.2 C270.0,210.8 272.0,211.4 274.0,212.0 C276.0,212.6 278.0,213.1 280.0,213.7 C282.0,214.3 284.0,214.9 286.0,215.5 C288.0,216.2 290.0,216.8 292.0,217.4 C294.0,218.0 296.0,218.6 298.0,219.2 C300.0,219.8 302.0,220.5 304.0,221.1 C306.0,221.7 308.0,222.4 310.0,223.0 C312.0,223.6 314.0,224.3 316.0,224.9 C318.0,225.6 320.0,226.2 322.0,226.9 C324.0,227.5 326.0,228.2 328.0,228.9 C330.0,229.6 332.0,230.2 334.0,230.9 C336.0,231.6 338.0,232.3 340.0,233.0 C342.0,233.7 344.0,234.4 346.0,235.1 C348.0,235.8 350.0,236.6 352.0,237.3 C354.0,238.0 356.0,238.8 358.0,239.5 C360.0,240.3 361.7,240.9 364.0,241.8 C367.3,243.1 371.3,244.6 376.0,246.5 C382.6,249.2 391.4,252.7 400.0,256.5 C410.0,260.8 421.5,265.8 432.5,271.1 C444.0,276.7 456.4,283.0 467.5,289.2 C478.0,295.0 488.3,301.4 497.5,307.2 C505.6,312.4 512.7,317.4 520.0,322.2 C526.9,326.8 533.3,331.2 540.0,335.5 C546.6,339.8 553.3,343.8 560.0,348.0 C566.7,352.2 573.4,356.3 580.0,360.9 C586.7,365.6 593.4,370.6 600.0,375.8 C606.7,381.0 613.5,386.6 620.0,392.1 C626.3,397.4 632.9,403.1 638.2,408.3 C642.8,412.7 647.3,417.4 650.4,421.1 C652.5,423.7 653.8,425.7 655.5,428.0 L656.3,462.3 C660.2,465.2 664.1,468.1 668.1,471.1 C672.2,474.1 676.3,477.2 680.8,480.2 C685.5,483.5 690.6,486.9 695.9,490.0 C701.4,493.3 707.2,496.5 713.0,499.4 C718.9,502.2 724.7,504.8 730.9,507.2 C737.4,509.9 744.2,512.1 751.2,514.6 C758.8,517.3 766.5,520.0 775.0,522.7 C784.7,525.7 794.9,528.7 806.2,531.6 C819.6,535.0 834.9,538.4 850.0,541.7 C866.1,545.1 883.4,548.5 900.0,551.6 C916.5,554.7 933.1,557.5 949.5,560.1 C965.7,562.8 981.8,565.1 998.0,567.6" stroke="#ff8100" stroke-linecap="square" stroke-linejoin="round"/>
<path d="M106.0,151.4 C108.0,152.2 110.0,153.1 112.0,153.9 C114.0,154.7 116.0,155.5 118.0,156.4 C120.0,157.2 122.0,158.0 124.0,158.7 C126.0,159.5 128.0,160.3 130.0,161.1 C132.0,161.8 134.0,162.6 136.0,163.3 C138.0,164.1 140.0,164.8 142.0,165.6 C144.0,166.3 146.0,167.0 148.0,167.7 C150.0,168.4 152.0,169.1 154.0,169.8 C156.0,170.5 158.0,171.2 160.0,171.9 C162.0,172.6 164.0,173.2 166.0,173.9 C168.0,174.6 170.0,175.2 172.0,175.9 C174.0,176.5 176.0,177.2 178.0,177.8 C180.0,178.5 182.0,179.1 184.0,179.7 C186.0,180.4 188.0,181.0 190.0,181.6 C192.0,182.2 194.0,182.8 196.0,183.4 C198.0,184.1 200.0,184.7 202.0,185.3 C204.0,185.9 206.0,186.5 208.0,187.1 C210.0,187.7 212.0,188.3 214.0,188.9 C216.0,189.4 218.0,190.0 220.0,190.6 C222.0,191.2 224.0,191.8 226.0,192.4 C228.0,193.0 230.0,193.5 232.0,194.1 C234.0,194.7 236.0,195.3 238.0,195.9 C240.0,196.5 242.0,197.0 244.0,197.6 C246.0,198.2 248.0,198.8 250.0,199.4 C252.0,200.0 254.0,200.5 256.0,201.1 C258.0,201.7 260.0,202.3 262.0,202.9 C264.0,203.5 266.0,204.1 268.0,204.7 C270.0,205.3 272.0,205.9 274.0,206.5 C276.0,207.1 278.0,207.7 280.0,208.3 C282.0,208.9 284.0,209.5 286.0,210.1 C288.0,210.7 290.0,211.3 292.0,212.0 C294.0,212.6 296.0,213.2 298.0,213.9 C300.0,214.5 302.0,215.1 304.0,215.8 C306.0,216.4 308.0,217.1 310.0,217.7 C312.0,218.4 314.0,219.1 316.0,219.8 C318.0,220.4 320.0,221.1 322.0,221.8 C324.0,222.5 326.0,223.3 328.0,224.0 C330.0,224.7 332.0,225.5 334.0,226.2 C336.0,227.0 338.0,227.8 340.0,228.6 C342.0,229.4 344.0,230.2 346.0,231.0 C348.0,231.9 350.0,232.7 352.0,233.6 C354.0,234.5 356.0,235.4 358.0,236.3 C360.0,237.2 361.6,238.1 364.0,239.1 C367.3,240.6 371.3,242.3 376.0,244.3 C382.6,247.1 391.4,250.4 400.0,254.0 C410.0,258.2 421.6,262.8 432.5,267.9 C444.0,273.4 456.4,279.7 467.5,286.0 C478.0,291.9 488.3,298.6 497.5,304.5 C505.6,309.7 512.7,314.8 520.0,319.5 C526.8,323.9 533.3,327.8 540.0,331.8 C546.6,335.6 553.5,339.4 560.0,342.9 C566.1,346.1 572.2,349.3 577.8,352.0 C582.5,354.3 586.6,356.0 591.0,358.0 C592.2,359.5 593.2,360.9 594.8,362.5 C597.0,364.8 600.1,367.3 603.5,370.1 C608.1,374.0 614.3,378.8 620.0,383.6 C626.4,389.0 633.6,395.3 640.0,401.0 C646.0,406.3 652.4,412.0 657.5,416.6 C661.5,420.2 665.4,423.7 668.2,426.4 C670.2,428.2 671.4,429.5 673.0,431.0 C673.4,437.9 673.0,446.0 674.2,451.8 C675.2,456.0 676.3,459.5 678.5,462.6 C680.8,465.9 684.4,468.0 688.0,470.8 C692.1,473.9 696.9,477.2 702.0,480.2 C707.7,483.7 714.3,486.9 720.7,490.0 C727.4,493.2 734.6,496.4 741.4,499.2 C747.9,502.0 754.2,504.6 760.7,507.0 C767.1,509.4 773.0,511.4 780.0,513.6 C788.3,516.2 797.3,518.6 807.5,521.2 C820.1,524.5 835.2,528.2 850.0,531.5 C866.0,535.1 883.4,538.8 900.0,542.0 C916.5,545.2 933.1,548.0 949.5,550.8 C965.7,553.6 981.8,556.1 998.0,558.7" stroke="#ff5900" stroke-linecap="square" stroke-linejoin="round"/>
<path id="d_40_0" d="M106.0,173.7 C108.0,174.3 110.0,175.0 112.0,175.6 C114.0,176.2 116.0,176.8 118.0,177.4 C120.0,178.1 122.0,178.7 124.0,179.3 C126.0,179.9 128.0,180.5 130.0,181.1 C132.0,181.7 134.0,182.3 136.0,182.9 C138.0,183.6 140.0,184.2 142.0,184.8 C144.0,185.4 146.0,186.0 148.0,186.6 C150.0,187.2 152.0,187.8 154.0,188.4 C156.0,189.0 158.0,189.6 160.0,190.2 C162.0,190.8 164.0,191.3 166.0,191.9 C168.0,192.5 170.0,193.1 172.0,193.7 C174.0,194.3 176.0,194.9 178.0,195.5 C180.0,196.1 182.0,196.6 184.0,197.2 C186.0,197.8 188.0,198.4 190.0,199.0 C192.0,199.6 194.0,200.1 196.0,200.7 C198.0,201.3 200.0,201.9 202.0,202.5 C204.0,203.0 206.0,203.6 208.0,204.2 C210.0,204.8 212.0,205.3 214.0,205.9 C216.0,206.5 218.0,207.1 220.0,207.6 C222.0,208.2 224.0,208.8 226.0,209.4 C228.0,209.9 230.0,210.5 232.0,211.1 C234.0,211.6 236.0,212.2 238.0,212.8 C240.0,213.3 242.0,213.9 244.0,214.5 C246.0,215.0 248.0,215.6 250.0,216.2 C252.0,216.7 254.0,217.3 256.0,217.8 C258.0,218.4 260.0,219.0 262.0,219.5 C264.0,220.1 266.0,220.7 268.0,221.2 C270.0,221.8 272.0,222.3 274.0,222.9 C276.0,223.5 278.0,224.0 280.0,224.6 C282.0,225.1 284.0,225.7 286.0,226.3 C288.0,226.8 290.0,227.4 292.0,227.9 C294.0,228.5 296.0,229.0 298.0,229.6 C300.0,230.2 302.0,230.7 304.0,231.3 C306.0,231.8 308.0,232.4 310.0,232.9 C312.0,233.5 314.0,234.1 316.0,234.6 C318.0,235.2 320.0,235.7 322.0,236.3 C324.0,236.8 326.0,237.4 328.0,238.0 C330.0,238.5 332.0,239.1 334.0,239.6 C336.0,240.2 338.0,240.8 340.0,241.3 C341.9,241.8 343.3,242.2 345.5,242.8 C348.7,243.8 352.8,245.1 357.2,246.6 C363.3,248.6 371.6,251.5 378.5,254.0 C385.1,256.4 391.8,258.9 397.8,261.3 C403.0,263.5 407.4,265.5 412.2,267.7 C417.1,269.8 421.9,272.1 426.8,274.2 C431.5,276.4 436.2,278.3 441.0,280.4" stroke="#ff3100" stroke-dasharray="6.6 9.4" stroke-dashoffset="1.30" stroke-linecap="butt" stroke-linejoin="round"/>
<path id="d_40_1" d="M441.0,280.4 C451.8,285.1 462.6,289.6 473.2,294.4 C484.0,299.3 495.5,305.1 505.1,309.6 C513.1,313.4 520.3,317.0 526.9,320.0 C532.4,322.6 537.1,324.5 542.1,326.6 C547.0,328.8 551.9,330.8 556.9,332.9 C561.7,335.0 566.6,337.1 571.5,339.2 C576.4,341.3 581.3,343.4 586.1,345.5 C591.0,347.6 595.8,349.6 600.6,351.8 C605.5,353.9 610.4,356.1 615.3,358.2 C620.2,360.3 625.1,362.3 630.0,364.5 C634.9,366.6 639.7,368.7 644.5,370.9 C649.4,373.2 654.1,375.5 658.9,377.8 C663.7,380.1 668.5,382.3 673.3,384.5 C678.1,386.6 683.0,388.7 687.9,390.8 C692.7,392.9 697.6,394.9 702.4,397.0" stroke="#ff3100" stroke-dasharray="6.6 9.4" stroke-dashoffset="3.55" stroke-linecap="butt" stroke-linejoin="round"/>
<path id="d_40_2" d="M702.4,397.0 C707.3,399.2 712.1,401.4 717.0,403.5 C721.9,405.6 726.8,407.7 731.8,409.8 C736.7,411.8 741.6,413.9 746.5,416.0 C751.4,418.1 756.2,420.3 761.1,422.4 C766.0,424.6 771.1,426.8 775.8,428.7 C780.2,430.5 784.8,432.3 788.6,433.8 C791.7,435.0 794.2,435.9 797.0,437.0 L806.0,449.0" stroke="#ff3100" stroke-dasharray="6.6 9.4" stroke-dashoffset="3.30" stroke-linecap="butt" stroke-linejoin="round"/>
<path id="d_40_3" d="M806.0,449.0 C809.0,450.6 811.7,452.4 815.1,453.9 C819.0,455.7 822.9,457.2 828.0,458.9 C835.3,461.5 844.9,464.3 854.6,467.2 C866.2,470.8 881.3,475.3 892.9,478.7 C902.6,481.6 912.1,484.4 919.8,486.6 C925.6,488.3 930.0,489.5 935.0,491.0 C940.1,492.4 945.3,493.8 950.4,495.3 C955.4,496.8 960.3,498.3 965.4,499.9 C970.5,501.4 975.6,503.1 980.9,504.7 C986.4,506.5 992.3,508.2 998.0,510.0" stroke="#ff3100" stroke-dasharray="6.6 9.4" stroke-dashoffset="11.30" stroke-linecap="butt" stroke-linejoin="round"/>
<path d="M106.0,132.9 C108.0,133.7 110.0,134.4 112.0,135.2 C114.0,135.9 116.0,136.7 118.0,137.4 C120.0,138.1 122.0,138.9 124.0,139.6 C126.0,140.3 128.0,141.1 130.0,141.8 C132.0,142.5 134.0,143.2 136.0,143.9 C138.0,144.6 140.0,145.4 142.0,146.1 C144.0,146.8 146.0,147.5 148.0,148.2 C150.0,148.9 152.0,149.6 154.0,150.3 C156.0,151.0 158.0,151.7 160.0,152.4 C162.0,153.0 164.0,153.7 166.0,154.4 C168.0,155.1 170.0,155.8 172.0,156.5 C174.0,157.2 176.0,157.8 178.0,158.5 C180.0,159.2 182.0,159.9 184.0,160.5 C186.0,161.2 188.0,161.9 190.0,162.6 C192.0,163.2 194.0,163.9 196.0,164.6 C198.0,165.3 200.0,165.9 202.0,166.6 C204.0,167.3 206.0,168.0 208.0,168.6 C210.0,169.3 212.0,170.0 214.0,170.6 C216.0,171.3 218.0,172.0 220.0,172.7 C222.0,173.3 224.0,174.0 226.0,174.7 C228.0,175.4 230.0,176.0 232.0,176.7 C234.0,177.4 236.0,178.1 238.0,178.7 C240.0,179.4 242.0,180.1 244.0,180.8 C246.0,181.5 248.0,182.2 250.0,182.8 C252.0,183.5 254.0,184.2 256.0,184.9 C258.0,185.6 260.0,186.3 262.0,187.0 C264.0,187.7 266.0,188.4 268.0,189.1 C270.0,189.8 272.0,190.5 274.0,191.2 C276.0,191.9 278.0,192.6 280.0,193.3 C282.0,194.0 284.0,194.8 286.0,195.5 C288.0,196.2 290.0,196.9 292.0,197.7 C294.0,198.4 296.0,199.1 298.0,199.9 C300.0,200.6 302.0,201.4 304.0,202.1 C306.0,202.9 308.0,203.6 310.0,204.4 C312.0,205.1 314.0,205.9 316.0,206.7 C318.0,207.4 320.0,208.2 322.0,209.0 C324.0,209.8 326.0,210.5 328.0,211.3 C330.0,212.1 332.0,212.9 334.0,213.7 C336.0,214.5 338.0,215.3 340.0,216.2 C342.0,217.0 344.0,217.8 346.0,218.6 C348.0,219.5 350.0,220.3 352.0,221.1 C354.0,222.0 356.0,222.8 358.0,223.7 C360.0,224.6 361.9,225.3 364.0,226.3 C366.4,227.4 369.1,228.6 371.8,230.1 C374.9,231.9 378.3,234.2 381.5,236.4 C384.7,238.6 387.4,241.1 390.8,243.2 C394.4,245.5 398.2,247.4 402.5,249.4 C407.4,251.7 413.5,253.9 418.8,256.2 C423.9,258.5 429.0,260.8 433.8,263.2 C438.1,265.4 442.1,267.6 446.2,270.1 C450.5,272.6 454.7,275.3 458.8,278.1 C462.6,280.8 466.1,283.6 470.0,286.5 C474.1,289.5 478.0,292.4 482.5,295.8 C487.9,299.8 494.1,304.1 500.0,309.0 C506.4,314.4 513.3,320.6 519.3,327.0 C525.4,333.4 531.0,340.6 536.3,347.5 C541.3,354.1 545.9,361.2 550.3,367.5 C554.2,373.2 558.1,378.8 561.6,383.7 C564.5,387.8 567.4,391.5 569.8,395.0 C571.8,397.8 573.7,399.8 575.0,402.9 C576.6,406.3 577.3,410.1 578.2,414.8 C579.3,421.2 579.8,430.1 580.6,437.8 C581.7,439.6 582.5,441.1 583.8,443.2 C585.5,446.0 587.6,449.7 589.9,453.1 C592.4,457.0 595.2,461.3 598.1,465.1 C601.0,468.9 603.9,472.3 607.4,475.8 C611.2,479.5 615.3,483.0 620.1,486.8 C625.8,491.2 632.4,495.9 639.5,500.6 C647.9,506.2 658.0,512.2 667.5,517.9 C677.2,523.6 687.3,529.5 697.2,534.8 C706.8,539.8 716.3,544.5 725.9,548.8 C735.1,553.0 745.2,556.7 753.4,560.3 C760.2,563.3 765.7,566.1 771.8,569.0 L777.6,579.2 C788.9,583.2 799.7,587.4 811.4,591.2 C823.9,595.2 836.8,599.1 850.4,602.5 C864.8,606.1 879.9,609.0 895.4,612.1 C912.0,615.4 929.9,618.4 947.0,621.7 C964.1,624.9 981.0,628.2 998.0,631.5" stroke="#f30900" stroke-linecap="square" stroke-linejoin="round"/>
</g>
<text transform="translate(128.11,54.40) scale(1.1516,1)" font-size="29.20" style="fill:#000">Sukhbold 2016/2018</text>
<text transform="translate(53.75,768.10) scale(1.1001,1)" font-size="29.40" style="fill:#000">10</text>
<text transform="translate(88.34,758.80) scale(1.0500,1)" font-size="20.20" style="fill:#000">3</text>
<text transform="translate(53.75,675.16) scale(1.1001,1)" font-size="29.40" style="fill:#000">10</text>
<text transform="translate(87.81,665.86) scale(1.0500,1)" font-size="20.20" style="fill:#000">4</text>
<text transform="translate(53.75,582.22) scale(1.1001,1)" font-size="29.40" style="fill:#000">10</text>
<text transform="translate(88.34,572.92) scale(1.0500,1)" font-size="20.20" style="fill:#000">5</text>
<text transform="translate(53.75,489.29) scale(1.1001,1)" font-size="29.40" style="fill:#000">10</text>
<text transform="translate(88.13,479.99) scale(1.0500,1)" font-size="20.20" style="fill:#000">6</text>
<text transform="translate(53.75,396.35) scale(1.1001,1)" font-size="29.40" style="fill:#000">10</text>
<text transform="translate(88.13,387.05) scale(1.0500,1)" font-size="20.20" style="fill:#000">7</text>
<text transform="translate(53.75,303.41) scale(1.1001,1)" font-size="29.40" style="fill:#000">10</text>
<text transform="translate(88.34,294.11) scale(1.0500,1)" font-size="20.20" style="fill:#000">8</text>
<text transform="translate(53.75,210.47) scale(1.1001,1)" font-size="29.40" style="fill:#000">10</text>
<text transform="translate(88.34,201.17) scale(1.0500,1)" font-size="20.20" style="fill:#000">9</text>
<text transform="translate(42.74,117.54) scale(1.1040,1)" font-size="29.40" style="fill:#000">10</text>
<text transform="translate(76.07,108.24) scale(1.1259,1)" font-size="20.20" style="fill:#000">10</text>
<text transform="translate(42.74,24.60) scale(1.1040,1)" font-size="29.40" style="fill:#000">10</text>
<text transform="translate(75.94,15.30) scale(1.2014,1)" font-size="20.20" style="fill:#000">11</text>
<text transform="translate(84.87,786.60) scale(1.1186,1)" font-size="29.80" style="fill:#000">0.0</text>
<text transform="translate(233.33,786.60) scale(1.1186,1)" font-size="29.80" style="fill:#000">0.5</text>
<text transform="translate(380.19,786.60) scale(1.1633,1)" font-size="29.80" style="fill:#000">1.0</text>
<text transform="translate(528.65,786.60) scale(1.1633,1)" font-size="29.80" style="fill:#000">1.5</text>
<text transform="translate(678.56,786.60) scale(1.1234,1)" font-size="29.80" style="fill:#000">2.0</text>
<text transform="translate(827.03,786.60) scale(1.1234,1)" font-size="29.80" style="fill:#000">2.5</text>
<text transform="translate(975.49,786.60) scale(1.1234,1)" font-size="29.80" style="fill:#000">3.0</text>
<text transform="translate(399.50,819.60) scale(1.1367,1)" font-size="29.30" style="fill:#000">Mass Coordinate [</text>
<text transform="translate(648.69,818.90) scale(1.0359,1)" font-size="28.20" font-style="italic" style="fill:#333">M</text>
<circle cx="683.0" cy="818.0" r="5.50" fill="none" stroke="#444" stroke-width="1.10"/><circle cx="683.0" cy="818.0" r="0.88" fill="#444"/>
<text transform="translate(695.91,819.60) scale(0.8646,1)" font-size="29.30" style="fill:#000">]</text>
<g transform="translate(0,0) rotate(-90)">
<text transform="translate(-496.97,24.00) scale(1.0908,1)" font-size="29.50" style="fill:#000">Density [g cm</text>
<text transform="translate(-313.26,13.60) scale(1.3154,1)" font-size="17.70" style="fill:#000">−3</text>
<text transform="translate(-285.90,24.00) scale(0.8738,1)" font-size="29.50" style="fill:#000">]</text>
</g>
<rect x="113.7" y="448.0" width="371.7" height="303.9" fill="#fff" stroke="#000" stroke-width="1.3"/>
<path d="M125.6,464.3 H147.0" stroke="#0000f3" stroke-width="6.8" stroke-linecap="square" fill="none"/>
<text transform="translate(166.39,468.80) scale(1.0300,1)" font-size="19.80" style="fill:#000">9</text>
<text transform="translate(177.84,468.80) scale(1.0809,1)" font-size="15.80" font-style="italic" style="fill:#3a3a3a">M</text>
<circle cx="198.2" cy="468.9" r="3.55" fill="none" stroke="#666" stroke-width="0.85"/><circle cx="198.2" cy="468.9" r="0.68" fill="#666"/>
<text transform="translate(210.95,468.80) scale(1.1586,1)" font-size="17.60" style="fill:#000">(a)</text>
<path d="M125.6,494.4 H147.0" stroke="#0011ff" stroke-width="6.8" stroke-linecap="square" fill="none"/>
<text transform="translate(166.39,498.85) scale(1.0300,1)" font-size="19.80" style="fill:#000">9</text>
<text transform="translate(177.84,498.85) scale(1.0809,1)" font-size="15.80" font-style="italic" style="fill:#3a3a3a">M</text>
<circle cx="198.2" cy="499.0" r="3.55" fill="none" stroke="#666" stroke-width="0.85"/><circle cx="198.2" cy="499.0" r="0.68" fill="#666"/>
<text transform="translate(211.00,498.85) scale(1.0943,1)" font-size="17.60" style="fill:#000">(b)</text>
<path d="M125.6,524.4 H147.0" stroke="#003cff" stroke-width="6.8" stroke-linecap="square" fill="none"/>
<text transform="translate(166.39,528.90) scale(1.0300,1)" font-size="19.80" style="fill:#000">9.25</text>
<text transform="translate(203.33,528.90) scale(1.0809,1)" font-size="15.80" font-style="italic" style="fill:#3a3a3a">M</text>
<circle cx="223.7" cy="529.0" r="3.55" fill="none" stroke="#666" stroke-width="0.85"/><circle cx="223.7" cy="529.0" r="0.68" fill="#666"/>
<path d="M125.6,554.5 H147.0" stroke="#0067ff" stroke-width="6.8" stroke-linecap="square" fill="none"/>
<text transform="translate(166.39,558.95) scale(1.0300,1)" font-size="19.80" style="fill:#000">9.5</text>
<text transform="translate(193.14,558.95) scale(1.0809,1)" font-size="15.80" font-style="italic" style="fill:#3a3a3a">M</text>
<circle cx="213.5" cy="559.1" r="3.55" fill="none" stroke="#666" stroke-width="0.85"/><circle cx="213.5" cy="559.1" r="0.68" fill="#666"/>
<path d="M125.6,584.5 H147.0" stroke="#0092ff" stroke-width="6.8" stroke-linecap="square" fill="none"/>
<text transform="translate(165.27,589.00) scale(1.0300,1)" font-size="19.80" style="fill:#000">11</text>
<text transform="translate(185.79,589.00) scale(1.0809,1)" font-size="15.80" font-style="italic" style="fill:#3a3a3a">M</text>
<circle cx="206.1" cy="589.1" r="3.55" fill="none" stroke="#666" stroke-width="0.85"/><circle cx="206.1" cy="589.1" r="0.68" fill="#666"/>
<path d="M125.6,614.5 H147.0" stroke="#00bdff" stroke-width="6.8" stroke-dasharray="6.6 9.4" fill="none"/>
<text transform="translate(165.27,619.05) scale(1.0300,1)" font-size="19.80" style="fill:#000">12.25</text>
<text transform="translate(212.41,619.05) scale(1.0809,1)" font-size="15.80" font-style="italic" style="fill:#3a3a3a">M</text>
<circle cx="232.7" cy="619.1" r="3.55" fill="none" stroke="#666" stroke-width="0.85"/><circle cx="232.7" cy="619.1" r="0.68" fill="#666"/>
<text transform="translate(245.59,619.05) scale(1.0728,1)" font-size="17.60" style="fill:#000">(BH)</text>
<path d="M125.6,644.6 H147.0" stroke="#02e8f5" stroke-width="6.8" stroke-dasharray="6.6 9.4" fill="none"/>
<text transform="translate(165.27,649.10) scale(1.0300,1)" font-size="19.80" style="fill:#000">14</text>
<text transform="translate(187.43,649.10) scale(1.0809,1)" font-size="15.80" font-style="italic" style="fill:#3a3a3a">M</text>
<circle cx="207.8" cy="649.2" r="3.55" fill="none" stroke="#666" stroke-width="0.85"/><circle cx="207.8" cy="649.2" r="0.68" fill="#666"/>
<text transform="translate(220.60,649.10) scale(1.0728,1)" font-size="17.60" style="fill:#000">(BH)</text>
<path d="M125.6,674.6 H147.0" stroke="#25ffd2" stroke-width="6.8" stroke-linecap="square" fill="none"/>
<text transform="translate(165.27,679.15) scale(1.0300,1)" font-size="19.80" style="fill:#000">15.01</text>
<text transform="translate(212.00,679.15) scale(1.0809,1)" font-size="15.80" font-style="italic" style="fill:#3a3a3a">M</text>
<circle cx="232.3" cy="679.2" r="3.55" fill="none" stroke="#666" stroke-width="0.85"/><circle cx="232.3" cy="679.2" r="0.68" fill="#666"/>
<path d="M125.6,704.7 H147.0" stroke="#47ffaf" stroke-width="6.8" stroke-linecap="square" fill="none"/>
<text transform="translate(165.27,709.20) scale(1.0300,1)" font-size="19.80" style="fill:#000">16</text>
<text transform="translate(187.12,709.20) scale(1.0809,1)" font-size="15.80" font-style="italic" style="fill:#3a3a3a">M</text>
<circle cx="207.4" cy="709.3" r="3.55" fill="none" stroke="#666" stroke-width="0.85"/><circle cx="207.4" cy="709.3" r="0.68" fill="#666"/>
<path d="M125.6,734.8 H147.0" stroke="#6aff8d" stroke-width="6.8" stroke-linecap="square" fill="none"/>
<text transform="translate(165.27,739.25) scale(1.0300,1)" font-size="19.80" style="fill:#000">17</text>
<text transform="translate(187.12,739.25) scale(1.0809,1)" font-size="15.80" font-style="italic" style="fill:#3a3a3a">M</text>
<circle cx="207.4" cy="739.4" r="3.55" fill="none" stroke="#666" stroke-width="0.85"/><circle cx="207.4" cy="739.4" r="0.68" fill="#666"/>
<path d="M321.0,464.3 H342.1" stroke="#8dff6a" stroke-width="6.8" stroke-linecap="square" fill="none"/>
<text transform="translate(360.57,468.80) scale(1.0300,1)" font-size="19.80" style="fill:#000">18</text>
<text transform="translate(382.22,468.80) scale(1.0809,1)" font-size="15.80" font-style="italic" style="fill:#3a3a3a">M</text>
<circle cx="402.5" cy="468.9" r="3.55" fill="none" stroke="#666" stroke-width="0.85"/><circle cx="402.5" cy="468.9" r="0.68" fill="#666"/>
<path d="M321.0,494.4 H342.1" stroke="#afff47" stroke-width="6.8" stroke-linecap="square" fill="none"/>
<text transform="translate(360.57,498.85) scale(1.0300,1)" font-size="19.80" style="fill:#000">18.5</text>
<text transform="translate(397.51,498.85) scale(1.0809,1)" font-size="15.80" font-style="italic" style="fill:#3a3a3a">M</text>
<circle cx="417.8" cy="499.0" r="3.55" fill="none" stroke="#666" stroke-width="0.85"/><circle cx="417.8" cy="499.0" r="0.68" fill="#666"/>
<path d="M321.0,524.4 H342.1" stroke="#d2ff25" stroke-width="6.8" stroke-linecap="square" fill="none"/>
<text transform="translate(360.57,528.90) scale(1.0300,1)" font-size="19.80" style="fill:#000">19</text>
<text transform="translate(382.22,528.90) scale(1.0809,1)" font-size="15.80" font-style="italic" style="fill:#3a3a3a">M</text>
<circle cx="402.5" cy="529.0" r="3.55" fill="none" stroke="#666" stroke-width="0.85"/><circle cx="402.5" cy="529.0" r="0.68" fill="#666"/>
<path d="M321.0,554.5 H342.1" stroke="#f5f802" stroke-width="6.8" stroke-dasharray="6.6 9.4" fill="none"/>
<text transform="translate(360.57,558.95) scale(1.0300,1)" font-size="19.80" style="fill:#000">19.56</text>
<text transform="translate(407.91,558.95) scale(1.0809,1)" font-size="15.80" font-style="italic" style="fill:#3a3a3a">M</text>
<circle cx="428.2" cy="559.1" r="3.55" fill="none" stroke="#666" stroke-width="0.85"/><circle cx="428.2" cy="559.1" r="0.68" fill="#666"/>
<text transform="translate(441.09,558.95) scale(1.0728,1)" font-size="17.60" style="fill:#000">(BH)</text>
<path d="M321.0,584.5 H342.1" stroke="#ffd000" stroke-width="6.8" stroke-linecap="square" fill="none"/>
<text transform="translate(361.38,589.00) scale(1.0300,1)" font-size="19.80" style="fill:#000">20</text>
<text transform="translate(383.03,589.00) scale(1.0809,1)" font-size="15.80" font-style="italic" style="fill:#3a3a3a">M</text>
<circle cx="403.4" cy="589.1" r="3.55" fill="none" stroke="#666" stroke-width="0.85"/><circle cx="403.4" cy="589.1" r="0.68" fill="#666"/>
<path d="M321.0,614.5 H342.1" stroke="#ffa900" stroke-width="6.8" stroke-linecap="square" fill="none"/>
<text transform="translate(361.38,619.05) scale(1.0300,1)" font-size="19.80" style="fill:#000">23</text>
<text transform="translate(383.03,619.05) scale(1.0809,1)" font-size="15.80" font-style="italic" style="fill:#3a3a3a">M</text>
<circle cx="403.4" cy="619.1" r="3.55" fill="none" stroke="#666" stroke-width="0.85"/><circle cx="403.4" cy="619.1" r="0.68" fill="#666"/>
<path d="M321.0,644.6 H342.1" stroke="#ff8100" stroke-width="6.8" stroke-linecap="square" fill="none"/>
<text transform="translate(361.38,649.10) scale(1.0300,1)" font-size="19.80" style="fill:#000">24</text>
<text transform="translate(383.54,649.10) scale(1.0809,1)" font-size="15.80" font-style="italic" style="fill:#3a3a3a">M</text>
<circle cx="403.9" cy="649.2" r="3.55" fill="none" stroke="#666" stroke-width="0.85"/><circle cx="403.9" cy="649.2" r="0.68" fill="#666"/>
<path d="M321.0,674.6 H342.1" stroke="#ff5900" stroke-width="6.8" stroke-linecap="square" fill="none"/>
<text transform="translate(361.38,679.15) scale(1.0300,1)" font-size="19.80" style="fill:#000">25</text>
<text transform="translate(383.03,679.15) scale(1.0809,1)" font-size="15.80" font-style="italic" style="fill:#3a3a3a">M</text>
<circle cx="403.4" cy="679.2" r="3.55" fill="none" stroke="#666" stroke-width="0.85"/><circle cx="403.4" cy="679.2" r="0.68" fill="#666"/>
<path d="M321.0,704.7 H342.1" stroke="#ff3100" stroke-width="6.8" stroke-dasharray="6.6 9.4" fill="none"/>
<text transform="translate(361.89,709.20) scale(1.0300,1)" font-size="19.80" style="fill:#000">40</text>
<text transform="translate(383.54,709.20) scale(1.0809,1)" font-size="15.80" font-style="italic" style="fill:#3a3a3a">M</text>
<circle cx="403.9" cy="709.3" r="3.55" fill="none" stroke="#666" stroke-width="0.85"/><circle cx="403.9" cy="709.3" r="0.68" fill="#666"/>
<text transform="translate(416.72,709.20) scale(1.0728,1)" font-size="17.60" style="fill:#000">(BH)</text>
<path d="M321.0,734.8 H342.1" stroke="#f30900" stroke-width="6.8" stroke-linecap="square" fill="none"/>
<text transform="translate(361.48,739.25) scale(1.0300,1)" font-size="19.80" style="fill:#000">60</text>
<text transform="translate(383.13,739.25) scale(1.0809,1)" font-size="15.80" font-style="italic" style="fill:#3a3a3a">M</text>
<circle cx="403.5" cy="739.4" r="3.55" fill="none" stroke="#666" stroke-width="0.85"/><circle cx="403.5" cy="739.4" r="0.68" fill="#666"/>
</g>
</svg></body></html>
